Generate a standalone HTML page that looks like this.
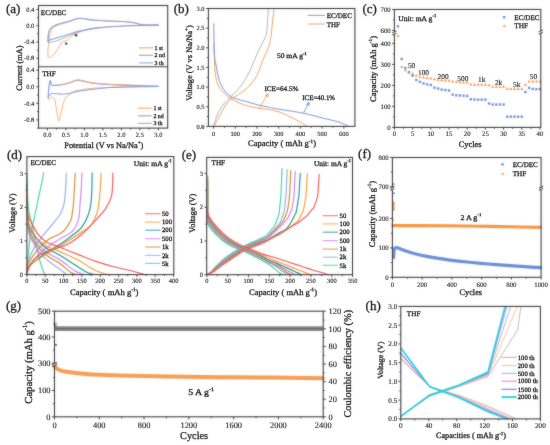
<!DOCTYPE html>
<html><head><meta charset="utf-8"><style>
html,body{margin:0;padding:0;background:#fff;}
svg{display:block;} #w{width:550px;height:445px;}
text{font-family:"Liberation Serif", serif;stroke:#161616;stroke-width:0.28px;text-rendering:geometricPrecision;} text.tk{stroke-width:0.12px;}
</style></head><body><div id="w">
<svg width="550" height="445" viewBox="0 0 550 445">
<defs><filter id="soft" filterUnits="userSpaceOnUse" x="0" y="0" width="550" height="445" color-interpolation-filters="sRGB"><feGaussianBlur in="SourceGraphic" stdDeviation="0.8" result="b"/><feComposite in="SourceGraphic" in2="b" operator="arithmetic" k1="0" k2="0.6" k3="0.4" k4="0"/></filter><filter id="soft2" filterUnits="userSpaceOnUse" x="0" y="0" width="550" height="445" color-interpolation-filters="sRGB"><feGaussianBlur in="SourceGraphic" stdDeviation="0.8" result="b"/><feComposite in="SourceGraphic" in2="b" operator="arithmetic" k1="0" k2="0.8" k3="0.2" k4="0"/></filter></defs>
<rect width="550" height="445" fill="#fff"/>
<g filter="url(#soft)">
<rect width="550" height="445" fill="#fff"/>
<line x1="36.3" y1="9.45" x2="38.5" y2="9.45" stroke="#3c3c3c" stroke-width="1"/>
<line x1="36.3" y1="25.73" x2="38.5" y2="25.73" stroke="#3c3c3c" stroke-width="1"/>
<line x1="36.3" y1="42.01" x2="38.5" y2="42.01" stroke="#3c3c3c" stroke-width="1"/>
<line x1="36.3" y1="58.29" x2="38.5" y2="58.29" stroke="#3c3c3c" stroke-width="1"/>
<line x1="37.1" y1="17.59" x2="38.5" y2="17.59" stroke="#3c3c3c" stroke-width="1"/>
<line x1="37.1" y1="33.87" x2="38.5" y2="33.87" stroke="#3c3c3c" stroke-width="1"/>
<line x1="37.1" y1="50.15" x2="38.5" y2="50.15" stroke="#3c3c3c" stroke-width="1"/>
<line x1="36.3" y1="70.21" x2="38.5" y2="70.21" stroke="#3c3c3c" stroke-width="1"/>
<line x1="36.3" y1="86.77" x2="38.5" y2="86.77" stroke="#3c3c3c" stroke-width="1"/>
<line x1="36.3" y1="103.33" x2="38.5" y2="103.33" stroke="#3c3c3c" stroke-width="1"/>
<line x1="36.3" y1="119.89" x2="38.5" y2="119.89" stroke="#3c3c3c" stroke-width="1"/>
<line x1="37.1" y1="78.49" x2="38.5" y2="78.49" stroke="#3c3c3c" stroke-width="1"/>
<line x1="37.1" y1="95.05" x2="38.5" y2="95.05" stroke="#3c3c3c" stroke-width="1"/>
<line x1="37.1" y1="111.61" x2="38.5" y2="111.61" stroke="#3c3c3c" stroke-width="1"/>
<line x1="37.1" y1="128.17" x2="38.5" y2="128.17" stroke="#3c3c3c" stroke-width="1"/>
<line x1="47.4" y1="128.1" x2="47.4" y2="130.3" stroke="#3c3c3c" stroke-width="1"/>
<line x1="65.89" y1="128.1" x2="65.89" y2="130.3" stroke="#3c3c3c" stroke-width="1"/>
<line x1="84.39" y1="128.1" x2="84.39" y2="130.3" stroke="#3c3c3c" stroke-width="1"/>
<line x1="102.88" y1="128.1" x2="102.88" y2="130.3" stroke="#3c3c3c" stroke-width="1"/>
<line x1="121.38" y1="128.1" x2="121.38" y2="130.3" stroke="#3c3c3c" stroke-width="1"/>
<line x1="139.88" y1="128.1" x2="139.88" y2="130.3" stroke="#3c3c3c" stroke-width="1"/>
<line x1="158.37" y1="128.1" x2="158.37" y2="130.3" stroke="#3c3c3c" stroke-width="1"/>
<line x1="56.65" y1="128.1" x2="56.65" y2="129.5" stroke="#3c3c3c" stroke-width="1"/>
<line x1="75.14" y1="128.1" x2="75.14" y2="129.5" stroke="#3c3c3c" stroke-width="1"/>
<line x1="93.64" y1="128.1" x2="93.64" y2="129.5" stroke="#3c3c3c" stroke-width="1"/>
<line x1="112.13" y1="128.1" x2="112.13" y2="129.5" stroke="#3c3c3c" stroke-width="1"/>
<line x1="130.63" y1="128.1" x2="130.63" y2="129.5" stroke="#3c3c3c" stroke-width="1"/>
<line x1="149.12" y1="128.1" x2="149.12" y2="129.5" stroke="#3c3c3c" stroke-width="1"/>
<path d="M158.3,25.2 C154.75,25.27 143.38,25.43 137,25.6 C130.62,25.77 125.33,25.97 120,26.2 C114.67,26.43 110,26.6 105,27 C100,27.4 94.28,27.73 90,28.6 C85.72,29.47 81.63,31.32 79.3,32.2 C76.97,33.08 77.3,33.23 76,33.9 C74.7,34.57 72.92,35.17 71.5,36.2 C70.08,37.23 68.63,39.27 67.5,40.1 C66.37,40.93 65.53,40.92 64.7,41.2 C63.87,41.48 63.43,40.87 62.5,41.8 C61.57,42.73 60.42,44.83 59.1,46.8 C57.78,48.77 55.92,51.9 54.6,53.6 C53.28,55.3 52.22,56.38 51.2,57 C50.18,57.62 49.05,57.47 48.5,57.3 C47.95,57.13 48,56.22 47.9,56" fill="none" stroke="#f6aa72" stroke-width="0.95" stroke-linejoin="round" stroke-linecap="round"/>
<path d="M47.9,56 C47.9,55 47.82,51.72 47.9,50 C47.98,48.28 48.03,48.28 48.4,45.7 C48.77,43.12 49.43,37.3 50.1,34.5 C50.77,31.7 51.27,30.4 52.4,28.9 C53.53,27.4 54.28,26.63 56.9,25.5 C59.52,24.37 64.55,23.23 68.1,22.1 C71.65,20.97 75.12,19.23 78.2,18.7 C81.28,18.17 83.63,18.65 86.6,18.9 C89.57,19.15 92.1,19.85 96,20.2 C99.9,20.55 105.38,20.77 110,21 C114.62,21.23 119.73,21.33 123.7,21.6 C127.67,21.87 130.98,22.15 133.8,22.6 C136.62,23.05 138.07,23.9 140.6,24.3 C143.13,24.7 146.05,24.87 149,25 C151.95,25.13 156.75,25.08 158.3,25.1" fill="none" stroke="#f6aa72" stroke-width="0.95" stroke-linejoin="round" stroke-linecap="round"/>
<path d="M100,27.9 C98.43,28.12 94.05,28.58 90.6,29.2 C87.15,29.82 83.05,30.43 79.3,31.6 C75.55,32.77 71.83,34.68 68.1,36.2 C64.37,37.72 59.72,39.68 56.9,40.7 C54.08,41.72 52.62,42.03 51.2,42.3 C49.78,42.57 48.87,42.3 48.4,42.3" fill="none" stroke="#a0a0a0" stroke-width="0.8" stroke-linejoin="round" stroke-linecap="round"/>
<path d="M48.4,42.3 C48.37,41.42 48.1,38.8 48.2,37 C48.3,35.2 48.5,33 49,31.5 C49.5,30 49.88,29.12 51.2,28 C52.52,26.88 55.95,25.33 56.9,24.8" fill="none" stroke="#a0a0a0" stroke-width="0.8" stroke-linejoin="round" stroke-linecap="round"/>
<path d="M158.3,25.1 C154.75,25.15 142.77,25.25 137,25.4 C131.23,25.55 128.2,25.77 123.7,26 C119.2,26.23 113.95,26.52 110,26.8 C106.05,27.08 103.23,27.35 100,27.7 C96.77,28.05 94.05,28.33 90.6,28.9 C87.15,29.47 83.05,30.17 79.3,31.1 C75.55,32.03 71.83,33.38 68.1,34.5 C64.37,35.62 59.92,36.88 56.9,37.8 C53.88,38.72 51.5,39.43 50,40 C48.5,40.57 48.25,41 47.9,41.2" fill="none" stroke="#849fe2" stroke-width="1.05" stroke-linejoin="round" stroke-linecap="round"/>
<path d="M47.9,41.2 C47.95,40.33 48.02,37.68 48.2,36 C48.38,34.32 48.5,32.48 49,31.1 C49.5,29.72 49.88,28.82 51.2,27.7 C52.52,26.58 54.08,25.42 56.9,24.4 C59.72,23.38 64.37,22.63 68.1,21.6 C71.83,20.57 75.55,18.48 79.3,18.2 C83.05,17.92 87.15,19.53 90.6,19.9 C94.05,20.27 96.77,20.2 100,20.4 C103.23,20.6 106.05,20.9 110,21.1 C113.95,21.3 119.73,21.32 123.7,21.6 C127.67,21.88 130.98,22.32 133.8,22.8 C136.62,23.28 138.07,24.13 140.6,24.5 C143.13,24.87 146.05,24.92 149,25 C151.95,25.08 156.75,25 158.3,25" fill="none" stroke="#849fe2" stroke-width="1.05" stroke-linejoin="round" stroke-linecap="round"/>
<circle cx="66.2" cy="43.6" r="1.2" fill="#1f3260"/>
<circle cx="76.1" cy="35.2" r="1.2" fill="#1f3260"/>
<path d="M158.3,86.3 C153.58,86.37 138.05,86.53 130,86.7 C121.95,86.87 115.83,87.05 110,87.3 C104.17,87.55 99.17,87.88 95,88.2 C90.83,88.52 88.5,88.65 85,89.2 C81.5,89.75 76.67,90.58 74,91.5 C71.33,92.42 70.42,93.62 69,94.7 C67.58,95.78 66.45,96.53 65.5,98 C64.55,99.47 64.1,100.83 63.3,103.5 C62.5,106.17 61.43,111.05 60.7,114 C59.97,116.95 59.48,121.2 58.9,121.2 C58.32,121.2 57.75,116.87 57.2,114 C56.65,111.13 56.05,106.48 55.6,104 C55.15,101.52 55.02,100.18 54.5,99.1 C53.98,98.02 53.1,97.87 52.5,97.5 C51.9,97.13 51.4,96.68 50.9,96.9 C50.4,97.12 49.87,98.32 49.5,98.8 C49.13,99.28 48.92,100.1 48.7,99.8 C48.48,99.5 48.28,97.47 48.2,97" fill="none" stroke="#f6aa72" stroke-width="0.95" stroke-linejoin="round" stroke-linecap="round"/>
<path d="M48.2,97 C48.27,95.83 48.4,92.17 48.6,90 C48.8,87.83 49.13,85.6 49.4,84 C49.67,82.4 49.95,80.57 50.2,80.4 C50.45,80.23 50.65,82.18 50.9,83 C51.15,83.82 51.18,84.9 51.7,85.3 C52.22,85.7 52.38,85.48 54,85.4 C55.62,85.32 58.58,85.3 61.4,84.8 C64.22,84.3 68.27,83.17 70.9,82.4 C73.53,81.63 75.1,80.4 77.2,80.2 C79.3,80 80.88,80.7 83.5,81.2 C86.12,81.7 88.48,82.65 92.9,83.2 C97.32,83.75 103.82,84.15 110,84.5 C116.18,84.85 123.33,85.05 130,85.3 C136.67,85.55 145.28,85.83 150,86 C154.72,86.17 156.92,86.25 158.3,86.3" fill="none" stroke="#a0a0a0" stroke-width="0.6" stroke-linejoin="round" stroke-linecap="round"/>
<path d="M48.2,97 C48.27,95.83 48.4,92.17 48.6,90 C48.8,87.83 49.13,85.6 49.4,84 C49.67,82.4 49.95,80.57 50.2,80.4 C50.45,80.23 50.65,82.18 50.9,83 C51.15,83.82 51.18,84.9 51.7,85.3 C52.22,85.7 52.38,85.48 54,85.4 C55.62,85.32 58.58,85.3 61.4,84.8 C64.22,84.3 68.27,83.17 70.9,82.4 C73.53,81.63 75.1,80.4 77.2,80.2 C79.3,80 80.88,80.7 83.5,81.2 C86.12,81.7 88.48,82.65 92.9,83.2 C97.32,83.75 103.82,84.15 110,84.5 C116.18,84.85 123.33,85.05 130,85.3 C136.67,85.55 145.28,85.83 150,86 C154.72,86.17 156.92,86.25 158.3,86.3" fill="none" stroke="#849fe2" stroke-width="1.05" stroke-linejoin="round" stroke-linecap="round"/>
<path d="M158.3,86.4 C153.58,86.48 138.05,86.7 130,86.9 C121.95,87.1 116.18,87.22 110,87.6 C103.82,87.98 98.37,88.55 92.9,89.2 C87.43,89.85 81.13,90.8 77.2,91.5 C73.27,92.2 71.93,92.97 69.3,93.4 C66.67,93.83 64.28,94.07 61.4,94.1 C58.52,94.13 54.03,93.37 52,93.6 C49.97,93.83 49.83,94.93 49.2,95.5 C48.57,96.07 48.37,96.75 48.2,97" fill="none" stroke="#849fe2" stroke-width="1.05" stroke-linejoin="round" stroke-linecap="round"/>
<path d="M61.4,85 C62.98,84.52 68.27,82.97 70.9,82.1 C73.53,81.23 75.1,80.02 77.2,79.8 C79.3,79.58 80.88,80.3 83.5,80.8 C86.12,81.3 88.48,82.22 92.9,82.8 C97.32,83.38 103.82,83.9 110,84.3 C116.18,84.7 126.67,85.05 130,85.2" fill="none" stroke="#f6aa72" stroke-width="0.85" stroke-linejoin="round" stroke-linecap="round"/>
<rect x="38.5" y="5.5" width="129.2" height="122.6" fill="none" stroke="#3c3c3c" stroke-width="1.1"/>
<line x1="38.5" y1="66.8" x2="167.7" y2="66.8" stroke="#3c3c3c" stroke-width="1.1"/>
<line x1="138.9" y1="47.8" x2="153" y2="47.8" stroke="#f6ad7c" stroke-width="1.2"/>
<line x1="138.9" y1="55.3" x2="153" y2="55.3" stroke="#a8a8a8" stroke-width="1.2"/>
<line x1="138.9" y1="62.9" x2="153" y2="62.9" stroke="#9fb2e2" stroke-width="1.2"/>
<line x1="138" y1="108.2" x2="151.8" y2="108.2" stroke="#f6ad7c" stroke-width="1.2"/>
<line x1="138" y1="115.8" x2="151.8" y2="115.8" stroke="#a8a8a8" stroke-width="1.2"/>
<line x1="138" y1="123.4" x2="151.8" y2="123.4" stroke="#9fb2e2" stroke-width="1.2"/>
<line x1="206.2" y1="126.4" x2="208.4" y2="126.4" stroke="#3c3c3c" stroke-width="1"/>
<line x1="206.2" y1="106.75" x2="208.4" y2="106.75" stroke="#3c3c3c" stroke-width="1"/>
<line x1="206.2" y1="87.1" x2="208.4" y2="87.1" stroke="#3c3c3c" stroke-width="1"/>
<line x1="206.2" y1="67.45" x2="208.4" y2="67.45" stroke="#3c3c3c" stroke-width="1"/>
<line x1="206.2" y1="47.8" x2="208.4" y2="47.8" stroke="#3c3c3c" stroke-width="1"/>
<line x1="206.2" y1="28.15" x2="208.4" y2="28.15" stroke="#3c3c3c" stroke-width="1"/>
<line x1="206.2" y1="8.5" x2="208.4" y2="8.5" stroke="#3c3c3c" stroke-width="1"/>
<line x1="207" y1="116.58" x2="208.4" y2="116.58" stroke="#3c3c3c" stroke-width="1"/>
<line x1="207" y1="96.93" x2="208.4" y2="96.93" stroke="#3c3c3c" stroke-width="1"/>
<line x1="207" y1="77.28" x2="208.4" y2="77.28" stroke="#3c3c3c" stroke-width="1"/>
<line x1="207" y1="57.63" x2="208.4" y2="57.63" stroke="#3c3c3c" stroke-width="1"/>
<line x1="207" y1="37.98" x2="208.4" y2="37.98" stroke="#3c3c3c" stroke-width="1"/>
<line x1="207" y1="18.33" x2="208.4" y2="18.33" stroke="#3c3c3c" stroke-width="1"/>
<line x1="213.5" y1="126.4" x2="213.5" y2="128.6" stroke="#3c3c3c" stroke-width="1"/>
<line x1="235.22" y1="126.4" x2="235.22" y2="128.6" stroke="#3c3c3c" stroke-width="1"/>
<line x1="256.94" y1="126.4" x2="256.94" y2="128.6" stroke="#3c3c3c" stroke-width="1"/>
<line x1="278.66" y1="126.4" x2="278.66" y2="128.6" stroke="#3c3c3c" stroke-width="1"/>
<line x1="300.38" y1="126.4" x2="300.38" y2="128.6" stroke="#3c3c3c" stroke-width="1"/>
<line x1="322.1" y1="126.4" x2="322.1" y2="128.6" stroke="#3c3c3c" stroke-width="1"/>
<line x1="343.82" y1="126.4" x2="343.82" y2="128.6" stroke="#3c3c3c" stroke-width="1"/>
<line x1="202.64" y1="126.4" x2="202.64" y2="127.8" stroke="#3c3c3c" stroke-width="1"/>
<line x1="224.36" y1="126.4" x2="224.36" y2="127.8" stroke="#3c3c3c" stroke-width="1"/>
<line x1="246.08" y1="126.4" x2="246.08" y2="127.8" stroke="#3c3c3c" stroke-width="1"/>
<line x1="267.8" y1="126.4" x2="267.8" y2="127.8" stroke="#3c3c3c" stroke-width="1"/>
<line x1="289.52" y1="126.4" x2="289.52" y2="127.8" stroke="#3c3c3c" stroke-width="1"/>
<line x1="311.24" y1="126.4" x2="311.24" y2="127.8" stroke="#3c3c3c" stroke-width="1"/>
<line x1="332.96" y1="126.4" x2="332.96" y2="127.8" stroke="#3c3c3c" stroke-width="1"/>
<path d="M213.4,126.4 C213.58,125.83 213.87,124.9 214.5,123 C215.13,121.1 216.25,117.35 217.2,115 C218.15,112.65 218.93,110.95 220.2,108.9 C221.47,106.85 223.02,104.75 224.8,102.7 C226.58,100.65 228.87,98.63 230.9,96.6 C232.93,94.57 234.97,92.78 237,90.5 C239.03,88.22 241.07,85.95 243.1,82.9 C245.13,79.85 247.65,75.18 249.2,72.2 C250.75,69.22 251.02,68.2 252.4,65 C253.78,61.8 255.93,56.45 257.5,53 C259.07,49.55 260.47,46.97 261.8,44.3 C263.13,41.63 264.65,39.18 265.5,37 C266.35,34.82 266.55,34.12 266.9,31.2 C267.25,28.28 267.35,23.27 267.6,19.5 C267.85,15.73 268.27,10.42 268.4,8.6" fill="none" stroke="#a9a9a9" stroke-width="0.9" stroke-linejoin="round" stroke-linecap="round"/>
<path d="M214.1,126.4 C214.33,125.83 214.73,124.4 215.5,123 C216.27,121.6 217.4,120.35 218.7,118 C220,115.65 221.52,111.82 223.3,108.9 C225.08,105.98 226.87,102.92 229.4,100.5 C231.93,98.08 235.45,96.57 238.5,94.4 C241.55,92.23 244.9,90.18 247.7,87.5 C250.5,84.82 253.18,81.72 255.3,78.3 C257.42,74.88 259.07,70.25 260.4,67 C261.73,63.75 262.22,61.38 263.3,58.8 C264.38,56.22 265.82,54.17 266.9,51.5 C267.98,48.83 269.07,45.7 269.8,42.8 C270.53,39.9 270.82,37.98 271.3,34.1 C271.78,30.22 272.22,23.75 272.7,19.5 C273.18,15.25 273.95,10.42 274.2,8.6" fill="none" stroke="#f5a062" stroke-width="1" stroke-linejoin="round" stroke-linecap="round"/>
<path d="M213.8,43.5 C213.87,45.42 214.07,51.72 214.2,55 C214.33,58.28 214.47,60.33 214.6,63.2 C214.73,66.07 214.57,68.92 215,72.2 C215.43,75.48 216.08,79.85 217.2,82.9 C218.32,85.95 219.93,88.22 221.7,90.5 C223.47,92.78 225.5,94.82 227.8,96.6 C230.1,98.38 232.7,99.8 235.5,101.2 C238.3,102.6 241.55,103.98 244.6,105 C247.65,106.02 251.25,106.72 253.8,107.3 C256.35,107.88 257.35,108.12 259.9,108.5 C262.45,108.88 265.75,108.98 269.1,109.6 C272.45,110.22 275.77,110.63 280,112.2 C284.23,113.77 291.08,117.33 294.5,119 C297.92,120.67 298.43,120.97 300.5,122.2 C302.57,123.43 305.83,125.7 306.9,126.4" fill="none" stroke="#f5a062" stroke-width="1" stroke-linejoin="round" stroke-linecap="round"/>
<path d="M213.8,23.6 C213.82,25.5 213.85,31.55 213.9,35 C213.95,38.45 214,40.82 214.1,44.3 C214.2,47.78 214.18,52.45 214.5,55.9 C214.82,59.35 215.3,61.27 216,65 C216.7,68.73 217.75,74.8 218.7,78.3 C219.65,81.8 220.43,83.58 221.7,86 C222.97,88.42 224.52,90.9 226.3,92.8 C228.08,94.7 230.37,96.3 232.4,97.4 C234.43,98.5 235.95,98.63 238.5,99.4 C241.05,100.17 244.38,101.07 247.7,102 C251.02,102.93 254.83,104.12 258.4,105 C261.97,105.88 265.5,106.58 269.1,107.3 C272.7,108.02 274.3,108.32 280,109.3 C285.7,110.28 296.03,111.7 303.3,113.2 C310.57,114.7 317.78,116.85 323.6,118.3 C329.42,119.75 334.07,120.58 338.2,121.9 C342.33,123.22 346.7,125.48 348.4,126.2" fill="none" stroke="#7592da" stroke-width="1" stroke-linejoin="round" stroke-linecap="round"/>
<line x1="259.1" y1="108.9" x2="266.9" y2="95.3" stroke="#f5a062" stroke-width="0.9"/>
<path d="M268.3,92.8 L264.8,95.4 L268.3,97.2 Z" fill="#f5a062"/>
<line x1="303.5" y1="113" x2="308.2" y2="103.8" stroke="#7592da" stroke-width="0.9"/>
<path d="M309.3,101.3 L306.0,104.4 L309.6,105.5 Z" fill="#7592da"/>
<rect x="208.4" y="8.5" width="146.5" height="117.9" fill="none" stroke="#3c3c3c" stroke-width="1.1"/>
<line x1="307.7" y1="15.4" x2="324.8" y2="15.4" stroke="#8aa3e0" stroke-width="1.1"/>
<line x1="307.7" y1="24" x2="324.8" y2="24" stroke="#f6a872" stroke-width="1.1"/>
<line x1="392.2" y1="127.4" x2="394.4" y2="127.4" stroke="#3c3c3c" stroke-width="1"/>
<line x1="392.2" y1="106.4" x2="394.4" y2="106.4" stroke="#3c3c3c" stroke-width="1"/>
<line x1="392.2" y1="85.4" x2="394.4" y2="85.4" stroke="#3c3c3c" stroke-width="1"/>
<line x1="392.2" y1="64.4" x2="394.4" y2="64.4" stroke="#3c3c3c" stroke-width="1"/>
<line x1="392.2" y1="43.4" x2="394.4" y2="43.4" stroke="#3c3c3c" stroke-width="1"/>
<line x1="392.2" y1="30.5" x2="394.4" y2="30.5" stroke="#3c3c3c" stroke-width="1"/>
<line x1="392.2" y1="9.5" x2="394.4" y2="9.5" stroke="#3c3c3c" stroke-width="1"/>
<line x1="393" y1="116.9" x2="394.4" y2="116.9" stroke="#3c3c3c" stroke-width="1"/>
<line x1="393" y1="95.9" x2="394.4" y2="95.9" stroke="#3c3c3c" stroke-width="1"/>
<line x1="393" y1="74.9" x2="394.4" y2="74.9" stroke="#3c3c3c" stroke-width="1"/>
<line x1="393" y1="53.9" x2="394.4" y2="53.9" stroke="#3c3c3c" stroke-width="1"/>
<line x1="393" y1="20" x2="394.4" y2="20" stroke="#3c3c3c" stroke-width="1"/>
<line x1="394.4" y1="127.4" x2="394.4" y2="129.6" stroke="#3c3c3c" stroke-width="1"/>
<line x1="412.6" y1="127.4" x2="412.6" y2="129.6" stroke="#3c3c3c" stroke-width="1"/>
<line x1="430.8" y1="127.4" x2="430.8" y2="129.6" stroke="#3c3c3c" stroke-width="1"/>
<line x1="449" y1="127.4" x2="449" y2="129.6" stroke="#3c3c3c" stroke-width="1"/>
<line x1="467.2" y1="127.4" x2="467.2" y2="129.6" stroke="#3c3c3c" stroke-width="1"/>
<line x1="485.4" y1="127.4" x2="485.4" y2="129.6" stroke="#3c3c3c" stroke-width="1"/>
<line x1="503.6" y1="127.4" x2="503.6" y2="129.6" stroke="#3c3c3c" stroke-width="1"/>
<line x1="521.8" y1="127.4" x2="521.8" y2="129.6" stroke="#3c3c3c" stroke-width="1"/>
<line x1="540" y1="127.4" x2="540" y2="129.6" stroke="#3c3c3c" stroke-width="1"/>
<line x1="403.5" y1="127.4" x2="403.5" y2="128.8" stroke="#3c3c3c" stroke-width="1"/>
<line x1="421.7" y1="127.4" x2="421.7" y2="128.8" stroke="#3c3c3c" stroke-width="1"/>
<line x1="439.9" y1="127.4" x2="439.9" y2="128.8" stroke="#3c3c3c" stroke-width="1"/>
<line x1="458.1" y1="127.4" x2="458.1" y2="128.8" stroke="#3c3c3c" stroke-width="1"/>
<line x1="476.3" y1="127.4" x2="476.3" y2="128.8" stroke="#3c3c3c" stroke-width="1"/>
<line x1="494.5" y1="127.4" x2="494.5" y2="128.8" stroke="#3c3c3c" stroke-width="1"/>
<line x1="512.7" y1="127.4" x2="512.7" y2="128.8" stroke="#3c3c3c" stroke-width="1"/>
<line x1="530.9" y1="127.4" x2="530.9" y2="128.8" stroke="#3c3c3c" stroke-width="1"/>
<path d="M398.04,34.22 L399.54,36.92 L396.54,36.92 Z" fill="#f5913a"/>
<path d="M401.68,65.3 L403.18,68 L400.18,68 Z" fill="#f5913a"/>
<path d="M405.32,68.45 L406.82,71.15 L403.82,71.15 Z" fill="#f5913a"/>
<path d="M408.96,70.34 L410.46,73.04 L407.46,73.04 Z" fill="#f5913a"/>
<path d="M412.6,72.23 L414.1,74.93 L411.1,74.93 Z" fill="#f5913a"/>
<path d="M416.24,73.91 L417.74,76.61 L414.74,76.61 Z" fill="#f5913a"/>
<path d="M419.88,75.17 L421.38,77.87 L418.38,77.87 Z" fill="#f5913a"/>
<path d="M423.52,75.8 L425.02,78.5 L422.02,78.5 Z" fill="#f5913a"/>
<path d="M427.16,76.22 L428.66,78.92 L425.66,78.92 Z" fill="#f5913a"/>
<path d="M430.8,76.64 L432.3,79.34 L429.3,79.34 Z" fill="#f5913a"/>
<path d="M434.44,77.59 L435.94,80.29 L432.94,80.29 Z" fill="#f5913a"/>
<path d="M438.08,78.11 L439.58,80.81 L436.58,80.81 Z" fill="#f5913a"/>
<path d="M441.72,78.53 L443.22,81.23 L440.22,81.23 Z" fill="#f5913a"/>
<path d="M445.36,78.84 L446.86,81.55 L443.86,81.55 Z" fill="#f5913a"/>
<path d="M449,79.06 L450.5,81.76 L447.5,81.76 Z" fill="#f5913a"/>
<path d="M452.64,79.87 L454.14,82.57 L451.14,82.57 Z" fill="#f5913a"/>
<path d="M456.28,80.42 L457.78,83.12 L454.78,83.12 Z" fill="#f5913a"/>
<path d="M459.92,80.63 L461.42,83.33 L458.42,83.33 Z" fill="#f5913a"/>
<path d="M463.56,80.73 L465.06,83.44 L462.06,83.44 Z" fill="#f5913a"/>
<path d="M467.2,80.84 L468.7,83.54 L465.7,83.54 Z" fill="#f5913a"/>
<path d="M470.84,82.73 L472.34,85.43 L469.34,85.43 Z" fill="#f5913a"/>
<path d="M474.48,82.94 L475.98,85.64 L472.98,85.64 Z" fill="#f5913a"/>
<path d="M478.12,82.94 L479.62,85.64 L476.62,85.64 Z" fill="#f5913a"/>
<path d="M481.76,82.94 L483.26,85.64 L480.26,85.64 Z" fill="#f5913a"/>
<path d="M485.4,82.94 L486.9,85.64 L483.9,85.64 Z" fill="#f5913a"/>
<path d="M489.04,83.57 L490.54,86.27 L487.54,86.27 Z" fill="#f5913a"/>
<path d="M492.68,85.04 L494.18,87.74 L491.18,87.74 Z" fill="#f5913a"/>
<path d="M496.32,85.04 L497.82,87.74 L494.82,87.74 Z" fill="#f5913a"/>
<path d="M499.96,85.04 L501.46,87.74 L498.46,87.74 Z" fill="#f5913a"/>
<path d="M503.6,85.04 L505.1,87.74 L502.1,87.74 Z" fill="#f5913a"/>
<path d="M507.24,86.93 L508.74,89.63 L505.74,89.63 Z" fill="#f5913a"/>
<path d="M510.88,87.35 L512.38,90.05 L509.38,90.05 Z" fill="#f5913a"/>
<path d="M514.52,87.35 L516.02,90.05 L513.02,90.05 Z" fill="#f5913a"/>
<path d="M518.16,87.35 L519.66,90.05 L516.66,90.05 Z" fill="#f5913a"/>
<path d="M521.8,87.35 L523.3,90.05 L520.3,90.05 Z" fill="#f5913a"/>
<path d="M525.44,83.36 L526.94,86.06 L523.94,86.06 Z" fill="#f5913a"/>
<path d="M529.08,79.79 L530.58,82.49 L527.58,82.49 Z" fill="#f5913a"/>
<path d="M532.72,79.79 L534.22,82.49 L531.22,82.49 Z" fill="#f5913a"/>
<path d="M536.36,79.79 L537.86,82.49 L534.86,82.49 Z" fill="#f5913a"/>
<path d="M540,79.79 L541.5,82.49 L538.5,82.49 Z" fill="#f5913a"/>
<rect x="396.86" y="25.12" width="2.35" height="2.35" fill="#6a8ede"/>
<rect x="400.5" y="57.77" width="2.35" height="2.35" fill="#6a8ede"/>
<rect x="404.14" y="66.8" width="2.35" height="2.35" fill="#6a8ede"/>
<rect x="407.78" y="71.21" width="2.35" height="2.35" fill="#6a8ede"/>
<rect x="411.42" y="74.57" width="2.35" height="2.35" fill="#6a8ede"/>
<rect x="415.06" y="78.77" width="2.35" height="2.35" fill="#6a8ede"/>
<rect x="418.7" y="80.66" width="2.35" height="2.35" fill="#6a8ede"/>
<rect x="422.34" y="82.23" width="2.35" height="2.35" fill="#6a8ede"/>
<rect x="425.98" y="83.18" width="2.35" height="2.35" fill="#6a8ede"/>
<rect x="429.62" y="83.81" width="2.35" height="2.35" fill="#6a8ede"/>
<rect x="433.26" y="86.43" width="2.35" height="2.35" fill="#6a8ede"/>
<rect x="436.9" y="87.38" width="2.35" height="2.35" fill="#6a8ede"/>
<rect x="440.54" y="88.43" width="2.35" height="2.35" fill="#6a8ede"/>
<rect x="444.18" y="88.85" width="2.35" height="2.35" fill="#6a8ede"/>
<rect x="447.82" y="89.27" width="2.35" height="2.35" fill="#6a8ede"/>
<rect x="451.46" y="93.47" width="2.35" height="2.35" fill="#6a8ede"/>
<rect x="455.1" y="94.1" width="2.35" height="2.35" fill="#6a8ede"/>
<rect x="458.74" y="94.31" width="2.35" height="2.35" fill="#6a8ede"/>
<rect x="462.38" y="94.52" width="2.35" height="2.35" fill="#6a8ede"/>
<rect x="466.02" y="94.73" width="2.35" height="2.35" fill="#6a8ede"/>
<rect x="469.66" y="98.09" width="2.35" height="2.35" fill="#6a8ede"/>
<rect x="473.3" y="98.3" width="2.35" height="2.35" fill="#6a8ede"/>
<rect x="476.94" y="98.51" width="2.35" height="2.35" fill="#6a8ede"/>
<rect x="480.58" y="98.51" width="2.35" height="2.35" fill="#6a8ede"/>
<rect x="484.22" y="98.51" width="2.35" height="2.35" fill="#6a8ede"/>
<rect x="487.86" y="102.29" width="2.35" height="2.35" fill="#6a8ede"/>
<rect x="491.5" y="103.34" width="2.35" height="2.35" fill="#6a8ede"/>
<rect x="495.14" y="103.34" width="2.35" height="2.35" fill="#6a8ede"/>
<rect x="498.78" y="103.34" width="2.35" height="2.35" fill="#6a8ede"/>
<rect x="502.42" y="103.34" width="2.35" height="2.35" fill="#6a8ede"/>
<rect x="506.06" y="115.52" width="2.35" height="2.35" fill="#6a8ede"/>
<rect x="509.7" y="115.52" width="2.35" height="2.35" fill="#6a8ede"/>
<rect x="513.35" y="115.52" width="2.35" height="2.35" fill="#6a8ede"/>
<rect x="516.99" y="115.52" width="2.35" height="2.35" fill="#6a8ede"/>
<rect x="520.62" y="115.52" width="2.35" height="2.35" fill="#6a8ede"/>
<rect x="524.26" y="90.84" width="2.35" height="2.35" fill="#6a8ede"/>
<rect x="527.9" y="86.75" width="2.35" height="2.35" fill="#6a8ede"/>
<rect x="531.55" y="87.8" width="2.35" height="2.35" fill="#6a8ede"/>
<rect x="535.19" y="88.01" width="2.35" height="2.35" fill="#6a8ede"/>
<rect x="538.83" y="88.01" width="2.35" height="2.35" fill="#6a8ede"/>
<rect x="394.4" y="9.45" width="146.4" height="117.95" fill="none" stroke="#3c3c3c" stroke-width="1.1"/>
<rect x="393.4" y="31.9" width="2" height="2.2" fill="#fff"/>
<line x1="392.4" y1="32.9" x2="396.4" y2="31" stroke="#3c3c3c" stroke-width="1.05"/>
<line x1="392.4" y1="35" x2="396.4" y2="33.1" stroke="#3c3c3c" stroke-width="1.05"/>
<rect x="539.8" y="30.9" width="2" height="2.2" fill="#fff"/>
<line x1="538.8" y1="31.9" x2="542.8" y2="30" stroke="#3c3c3c" stroke-width="1.05"/>
<line x1="538.8" y1="34" x2="542.8" y2="32.1" stroke="#3c3c3c" stroke-width="1.05"/>
<rect x="502.95" y="15.95" width="2.5" height="2.5" fill="#6a8ede"/>
<path d="M504.3,24.38 L505.8,27.08 L502.8,27.08 Z" fill="#f5913a"/>
<line x1="24.7" y1="274.5" x2="26.9" y2="274.5" stroke="#3c3c3c" stroke-width="1"/>
<line x1="24.7" y1="240.9" x2="26.9" y2="240.9" stroke="#3c3c3c" stroke-width="1"/>
<line x1="24.7" y1="207.3" x2="26.9" y2="207.3" stroke="#3c3c3c" stroke-width="1"/>
<line x1="24.7" y1="173.7" x2="26.9" y2="173.7" stroke="#3c3c3c" stroke-width="1"/>
<line x1="25.5" y1="257.7" x2="26.9" y2="257.7" stroke="#3c3c3c" stroke-width="1"/>
<line x1="25.5" y1="224.1" x2="26.9" y2="224.1" stroke="#3c3c3c" stroke-width="1"/>
<line x1="25.5" y1="190.5" x2="26.9" y2="190.5" stroke="#3c3c3c" stroke-width="1"/>
<line x1="26.9" y1="274.6" x2="26.9" y2="276.8" stroke="#3c3c3c" stroke-width="1"/>
<line x1="45.23" y1="274.6" x2="45.23" y2="276.8" stroke="#3c3c3c" stroke-width="1"/>
<line x1="63.57" y1="274.6" x2="63.57" y2="276.8" stroke="#3c3c3c" stroke-width="1"/>
<line x1="81.91" y1="274.6" x2="81.91" y2="276.8" stroke="#3c3c3c" stroke-width="1"/>
<line x1="100.24" y1="274.6" x2="100.24" y2="276.8" stroke="#3c3c3c" stroke-width="1"/>
<line x1="118.58" y1="274.6" x2="118.58" y2="276.8" stroke="#3c3c3c" stroke-width="1"/>
<line x1="136.91" y1="274.6" x2="136.91" y2="276.8" stroke="#3c3c3c" stroke-width="1"/>
<line x1="155.25" y1="274.6" x2="155.25" y2="276.8" stroke="#3c3c3c" stroke-width="1"/>
<line x1="173.58" y1="274.6" x2="173.58" y2="276.8" stroke="#3c3c3c" stroke-width="1"/>
<line x1="36.07" y1="274.6" x2="36.07" y2="276" stroke="#3c3c3c" stroke-width="1"/>
<line x1="54.4" y1="274.6" x2="54.4" y2="276" stroke="#3c3c3c" stroke-width="1"/>
<line x1="72.74" y1="274.6" x2="72.74" y2="276" stroke="#3c3c3c" stroke-width="1"/>
<line x1="91.07" y1="274.6" x2="91.07" y2="276" stroke="#3c3c3c" stroke-width="1"/>
<line x1="109.41" y1="274.6" x2="109.41" y2="276" stroke="#3c3c3c" stroke-width="1"/>
<line x1="127.74" y1="274.6" x2="127.74" y2="276" stroke="#3c3c3c" stroke-width="1"/>
<line x1="146.08" y1="274.6" x2="146.08" y2="276" stroke="#3c3c3c" stroke-width="1"/>
<line x1="164.41" y1="274.6" x2="164.41" y2="276" stroke="#3c3c3c" stroke-width="1"/>
<path d="M26.9,274.5 C26.96,273.1 27.08,268.9 27.27,266.1 C27.45,263.3 27.45,263.02 28,257.7 C28.55,252.38 29.53,240.79 30.57,234.18 C31.61,227.57 33.01,223.65 34.23,218.05 C35.46,212.45 36.8,205.73 37.9,200.58 C39,195.43 39.86,191.79 40.83,187.14 C41.81,182.49 43.28,175.1 43.77,172.69" fill="none" stroke="#3fd3a8" stroke-width="1.15" stroke-linejoin="round" stroke-linecap="round"/>
<path d="M26.9,173.7 C27.02,177.62 27.33,191.06 27.63,197.22 C27.94,203.38 28.12,206.57 28.73,210.66 C29.34,214.75 30.38,217.55 31.3,221.75 C32.22,225.95 33.32,231.38 34.23,235.86 C35.15,240.34 35.88,244.54 36.8,248.63 C37.72,252.72 38.82,257.03 39.73,260.39 C40.65,263.75 41.45,266.44 42.3,268.79 C43.16,271.14 44.44,273.55 44.87,274.5" fill="none" stroke="#3fd3a8" stroke-width="1.15" stroke-linejoin="round" stroke-linecap="round"/>
<path d="M26.9,274.5 C27.02,272.82 27.33,266.94 27.63,264.42 C27.94,261.9 27.63,262.18 28.73,259.38 C29.83,256.58 31.79,251.65 34.23,247.62 C36.68,243.59 40.35,239.11 43.4,235.19 C46.46,231.27 49.82,227.52 52.57,224.1 C55.32,220.68 58.25,217.21 59.9,214.69 C61.55,212.17 61.74,211.05 62.47,208.98 C63.2,206.91 63.75,205.9 64.3,202.26 C64.85,198.62 65.42,192.01 65.77,187.14 C66.12,182.27 66.29,175.38 66.39,173.03" fill="none" stroke="#97aae2" stroke-width="1.15" stroke-linejoin="round" stroke-linecap="round"/>
<path d="M26.9,180.42 C26.99,187.14 27.14,212.06 27.45,220.74 C27.76,229.42 27.85,228.97 28.73,232.5 C29.62,236.03 31.06,238.72 32.77,241.91 C34.48,245.1 36.74,248.74 39,251.65 C41.26,254.56 43.77,257.08 46.34,259.38 C48.9,261.68 52.14,263.8 54.4,265.43 C56.66,267.05 57.89,267.61 59.9,269.12 C61.92,270.64 65.4,273.6 66.5,274.5" fill="none" stroke="#97aae2" stroke-width="1.15" stroke-linejoin="round" stroke-linecap="round"/>
<path d="M26.9,274.5 C27.02,273.1 27.02,268.62 27.63,266.1 C28.24,263.58 28.61,262.46 30.57,259.38 C32.52,256.3 36.31,250.98 39.37,247.62 C42.42,244.26 45.48,241.52 48.9,239.22 C52.32,236.92 57.15,235.52 59.9,233.84 C62.65,232.16 63.57,231.44 65.4,229.14 C67.24,226.84 69.74,222.87 70.9,220.07 C72.07,217.27 71.94,215.03 72.37,212.34 C72.8,209.65 73.12,208.14 73.47,203.94 C73.83,199.74 74.21,192.29 74.5,187.14 C74.78,181.99 75.08,175.38 75.19,173.03" fill="none" stroke="#c68d32" stroke-width="1.15" stroke-linejoin="round" stroke-linecap="round"/>
<path d="M26.9,190.5 C26.99,195.26 27.14,212.34 27.45,219.06 C27.76,225.78 28.09,227.74 28.73,230.82 C29.38,233.9 29.53,234.57 31.3,237.54 C33.07,240.51 36.43,245.38 39.37,248.63 C42.3,251.88 45.48,254.56 48.9,257.03 C52.32,259.49 56.24,260.84 59.9,263.41 C63.57,265.99 68.15,270.64 70.9,272.48 C73.65,274.33 75.49,274.16 76.4,274.5" fill="none" stroke="#c68d32" stroke-width="1.15" stroke-linejoin="round" stroke-linecap="round"/>
<path d="M26.9,274.5 C27.08,273.66 27.39,271.14 28,269.46 C28.61,267.78 28.67,267.05 30.57,264.42 C32.46,261.79 36.31,256.75 39.37,253.67 C42.42,250.59 45.48,248.4 48.9,245.94 C52.32,243.48 55.93,241.4 59.9,238.88 C63.88,236.36 69.62,234.12 72.74,230.82 C75.85,227.52 77.41,223.2 78.6,219.06 C79.8,214.92 79.44,211.28 79.89,205.96 C80.34,200.64 80.98,192.63 81.32,187.14 C81.65,181.65 81.81,175.38 81.91,173.03" fill="none" stroke="#d57df5" stroke-width="1.15" stroke-linejoin="round" stroke-linecap="round"/>
<path d="M26.9,187.14 C26.99,192.18 27.14,210.66 27.45,217.38 C27.76,224.1 28.09,224.55 28.73,227.46 C29.38,230.37 29.53,231.77 31.3,234.85 C33.07,237.93 36.43,242.8 39.37,245.94 C42.3,249.08 45.48,251.37 48.9,253.67 C52.32,255.96 55.66,256.92 59.9,259.72 C64.15,262.52 70.78,268.12 74.39,270.47 C77.99,272.82 79.86,273.16 81.54,273.83 C83.22,274.5 83.98,274.39 84.47,274.5" fill="none" stroke="#d57df5" stroke-width="1.15" stroke-linejoin="round" stroke-linecap="round"/>
<path d="M26.9,274.5 C27.08,273.72 27.39,271.36 28,269.8 C28.61,268.23 28.67,267.11 30.57,265.09 C32.46,263.08 36.31,260.05 39.37,257.7 C42.42,255.35 45.48,253.16 48.9,250.98 C52.32,248.8 56.24,247 59.9,244.6 C63.57,242.19 67.3,239.39 70.9,236.53 C74.51,233.68 78.54,231.38 81.54,227.46 C84.53,223.54 87.26,217.49 88.87,213.01 C90.49,208.53 90.71,204.89 91.22,200.58 C91.73,196.27 91.75,191.73 91.92,187.14 C92.08,182.55 92.16,175.38 92.21,173.03" fill="none" stroke="#15998f" stroke-width="1.15" stroke-linejoin="round" stroke-linecap="round"/>
<path d="M26.9,183.78 C26.99,188.82 27.14,207.3 27.45,214.02 C27.76,220.74 28.09,221.19 28.73,224.1 C29.38,227.01 28.86,227.85 31.3,231.49 C33.75,235.13 38.63,241.96 43.4,245.94 C48.17,249.92 54.16,251.88 59.9,255.35 C65.65,258.82 73.29,263.92 77.87,266.77 C82.46,269.63 84.53,271.2 87.41,272.48 C90.28,273.77 93.82,274.16 95.11,274.5" fill="none" stroke="#15998f" stroke-width="1.15" stroke-linejoin="round" stroke-linecap="round"/>
<path d="M26.9,274.5 C27.08,273.66 27.39,271.14 28,269.46 C28.61,267.78 28.92,266.1 30.57,264.42 C32.22,262.74 35.27,261.06 37.9,259.38 C40.53,257.7 42.67,256.52 46.34,254.34 C50,252.16 54.65,249.58 59.9,246.28 C65.16,242.97 72.74,237.99 77.87,234.52 C83.01,231.04 87.53,229.03 90.71,225.44 C93.88,221.86 95.53,217.16 96.94,213.01 C98.35,208.87 98.56,204.89 99.14,200.58 C99.72,196.27 100.08,191.73 100.42,187.14 C100.77,182.55 101.07,175.38 101.19,173.03" fill="none" stroke="#f79a2e" stroke-width="1.15" stroke-linejoin="round" stroke-linecap="round"/>
<path d="M26.9,190.5 C26.99,194.14 27.14,207.02 27.45,212.34 C27.76,217.66 28.09,219.62 28.73,222.42 C29.38,225.22 29.77,226.34 31.3,229.14 C32.83,231.94 35.4,236.42 37.9,239.22 C40.41,242.02 42.67,243.87 46.34,245.94 C50,248.01 54.65,249.36 59.9,251.65 C65.16,253.95 72.98,257.14 77.87,259.72 C82.76,262.29 86.24,265.32 89.24,267.11 C92.23,268.9 93.39,269.4 95.84,270.47 C98.28,271.53 101.71,272.82 103.91,273.49 C106.11,274.16 108.19,274.33 109.04,274.5" fill="none" stroke="#f79a2e" stroke-width="1.15" stroke-linejoin="round" stroke-linecap="round"/>
<path d="M26.9,274.5 C27.08,273.66 27.39,271.25 28,269.46 C28.61,267.67 28.92,265.99 30.57,263.75 C32.22,261.51 34.72,258.26 37.9,256.02 C41.08,253.78 45.97,251.76 49.64,250.31 C53.3,248.85 56.66,248.4 59.9,247.28 C63.14,246.16 65.46,245.72 69.07,243.59 C72.68,241.46 77.08,238.44 81.54,234.52 C86,230.6 91.93,224.27 95.84,220.07 C99.75,215.87 102.7,212.51 105.01,209.32 C107.32,206.12 108.54,203.49 109.7,200.92 C110.86,198.34 111.49,196.72 111.97,193.86 C112.46,191 112.48,187.25 112.63,183.78 C112.79,180.31 112.85,174.82 112.89,173.03" fill="none" stroke="#f2545a" stroke-width="1.15" stroke-linejoin="round" stroke-linecap="round"/>
<path d="M26.9,197.22 C26.99,199.46 27.14,207.19 27.45,210.66 C27.76,214.13 28.09,216.09 28.73,218.05 C29.38,220.01 29.77,219.73 31.3,222.42 C32.83,225.11 35.4,230.93 37.9,234.18 C40.41,237.43 42.67,239.72 46.34,241.91 C50,244.09 54.65,245.21 59.9,247.28 C65.16,249.36 71.88,251.99 77.87,254.34 C83.86,256.69 89.82,259.32 95.84,261.4 C101.86,263.47 108.31,265.26 113.99,266.77 C119.68,268.28 125.82,269.46 129.94,270.47 C134.07,271.48 136.24,272.15 138.74,272.82 C141.25,273.49 143.94,274.22 144.98,274.5" fill="none" stroke="#f2545a" stroke-width="1.15" stroke-linejoin="round" stroke-linecap="round"/>
<rect x="26.9" y="156.6" width="146.9" height="118" fill="none" stroke="#3c3c3c" stroke-width="1.1"/>
<line x1="145.1" y1="213.7" x2="160.5" y2="213.7" stroke="#f2545a" stroke-width="1.2" opacity="0.75"/>
<line x1="145.1" y1="222.1" x2="160.5" y2="222.1" stroke="#f79a2e" stroke-width="1.2" opacity="0.75"/>
<line x1="145.1" y1="230.2" x2="160.5" y2="230.2" stroke="#15998f" stroke-width="1.2" opacity="0.75"/>
<line x1="145.1" y1="238.7" x2="160.5" y2="238.7" stroke="#d57df5" stroke-width="1.2" opacity="0.75"/>
<line x1="145.1" y1="247" x2="160.5" y2="247" stroke="#c68d32" stroke-width="1.2" opacity="0.75"/>
<line x1="145.1" y1="255.4" x2="160.5" y2="255.4" stroke="#97aae2" stroke-width="1.2" opacity="0.75"/>
<line x1="145.1" y1="263.4" x2="160.5" y2="263.4" stroke="#3fd3a8" stroke-width="1.2" opacity="0.75"/>
<line x1="204.5" y1="274.8" x2="206.7" y2="274.8" stroke="#3c3c3c" stroke-width="1"/>
<line x1="204.5" y1="241" x2="206.7" y2="241" stroke="#3c3c3c" stroke-width="1"/>
<line x1="204.5" y1="207.2" x2="206.7" y2="207.2" stroke="#3c3c3c" stroke-width="1"/>
<line x1="204.5" y1="173.4" x2="206.7" y2="173.4" stroke="#3c3c3c" stroke-width="1"/>
<line x1="205.3" y1="257.9" x2="206.7" y2="257.9" stroke="#3c3c3c" stroke-width="1"/>
<line x1="205.3" y1="224.1" x2="206.7" y2="224.1" stroke="#3c3c3c" stroke-width="1"/>
<line x1="205.3" y1="190.3" x2="206.7" y2="190.3" stroke="#3c3c3c" stroke-width="1"/>
<line x1="206.8" y1="274.7" x2="206.8" y2="276.9" stroke="#3c3c3c" stroke-width="1"/>
<line x1="227.63" y1="274.7" x2="227.63" y2="276.9" stroke="#3c3c3c" stroke-width="1"/>
<line x1="248.46" y1="274.7" x2="248.46" y2="276.9" stroke="#3c3c3c" stroke-width="1"/>
<line x1="269.29" y1="274.7" x2="269.29" y2="276.9" stroke="#3c3c3c" stroke-width="1"/>
<line x1="290.12" y1="274.7" x2="290.12" y2="276.9" stroke="#3c3c3c" stroke-width="1"/>
<line x1="310.95" y1="274.7" x2="310.95" y2="276.9" stroke="#3c3c3c" stroke-width="1"/>
<line x1="331.78" y1="274.7" x2="331.78" y2="276.9" stroke="#3c3c3c" stroke-width="1"/>
<line x1="352.61" y1="274.7" x2="352.61" y2="276.9" stroke="#3c3c3c" stroke-width="1"/>
<line x1="217.22" y1="274.7" x2="217.22" y2="276.1" stroke="#3c3c3c" stroke-width="1"/>
<line x1="238.05" y1="274.7" x2="238.05" y2="276.1" stroke="#3c3c3c" stroke-width="1"/>
<line x1="258.88" y1="274.7" x2="258.88" y2="276.1" stroke="#3c3c3c" stroke-width="1"/>
<line x1="279.71" y1="274.7" x2="279.71" y2="276.1" stroke="#3c3c3c" stroke-width="1"/>
<line x1="300.54" y1="274.7" x2="300.54" y2="276.1" stroke="#3c3c3c" stroke-width="1"/>
<line x1="321.37" y1="274.7" x2="321.37" y2="276.1" stroke="#3c3c3c" stroke-width="1"/>
<line x1="342.2" y1="274.7" x2="342.2" y2="276.1" stroke="#3c3c3c" stroke-width="1"/>
<path d="M206.8,220.04 C207.01,220.74 207.2,222.51 208.09,224.23 C208.97,225.95 210.55,228.43 212.11,230.36 C213.66,232.3 215.65,234.08 217.41,235.83 C219.18,237.57 220.83,239.33 222.72,240.81 C224.62,242.29 226.89,243.59 228.79,244.71 C230.68,245.82 232.07,246.6 234.1,247.49 C236.12,248.39 238.52,249.07 240.92,250.06 C243.32,251.04 246.1,252.26 248.5,253.41 C250.9,254.55 253.05,255.72 255.33,256.94 C257.6,258.15 260.13,259.61 262.15,260.7 C264.17,261.79 265.69,262.4 267.46,263.48 C269.23,264.56 271.12,265.9 272.76,267.18 C274.41,268.45 276.05,270.12 277.31,271.15 C278.58,272.18 279.46,272.75 280.35,273.35 C281.23,273.96 282.24,274.56 282.62,274.8" fill="none" stroke="#3fd3a8" stroke-width="1.15" stroke-linejoin="round" stroke-linecap="round"/>
<line x1="207.7" y1="180.16" x2="207.7" y2="220.04" stroke="#3fd3a8" stroke-width="1"/>
<path d="M206.8,274.8 L208.47,273.79 L210.13,272.66 L211.8,271.12 L213.47,269.17 L215.13,267.24 L216.8,265.61 L218.46,263.99 L220.13,262.36 L221.8,260.73 L223.46,259.1 L225.13,257.82 L226.8,256.69 L228.46,255.56 L230.13,254.44 L231.8,253.31 L233.46,252.22 L235.13,251.22 L236.8,250.21 L238.46,249.21 L240.13,248.21 L241.79,247.21 L243.46,246.37 L245.13,245.55 L246.79,244.73 L248.46,243.91 L250.13,243.09 L251.79,242.35 L253.46,241.67 L255.13,240.99 L256.79,240.3 L258.46,239.59 L260.12,238.84 L261.79,238.03 L263.46,237.28 L265.12,236.34 L266.79,235.11 L268.46,233.39 L270.12,231.46 L270.54,230.97 L270.96,230.48 L271.37,229.98 L271.79,229.49 L272.21,228.99 L272.62,228.49 L273.04,227.98 L273.46,227.48 L273.87,226.97 L274.29,226.46 L274.71,225.79 L275.12,224.71 L275.54,223.62 L275.96,222.51 L276.37,221.39 L276.79,220.25 L277.21,219.12 L277.62,217.97 L278.04,216.82 L278.46,215.67 L278.87,214.52 L279.29,211.92 L279.71,207.85 L280.12,203.78 L280.54,199.71 L280.95,195.07 L281.37,185.29 L281.79,175.51 L282.08,168.67" fill="none" stroke="#3fd3a8" stroke-width="1.15" stroke-linejoin="round" stroke-linecap="round"/>
<path d="M206.8,218.02 C207.03,218.79 207.23,220.79 208.18,222.65 C209.13,224.51 210.82,227.1 212.49,229.18 C214.15,231.26 216.28,233.23 218.17,235.13 C220.07,237.03 221.83,239.02 223.86,240.58 C225.89,242.14 228.33,243.38 230.36,244.5 C232.39,245.62 233.88,246.33 236.05,247.29 C238.21,248.25 240.78,249.17 243.36,250.27 C245.93,251.37 248.91,252.64 251.48,253.9 C254.05,255.15 256.35,256.55 258.79,257.79 C261.23,259.03 263.94,260.26 266.1,261.31 C268.27,262.36 269.89,263.04 271.79,264.1 C273.69,265.15 275.72,266.44 277.48,267.64 C279.24,268.84 281,270.34 282.35,271.3 C283.7,272.25 284.65,272.8 285.6,273.38 C286.55,273.97 287.63,274.56 288.04,274.8" fill="none" stroke="#97aae2" stroke-width="1.15" stroke-linejoin="round" stroke-linecap="round"/>
<line x1="207.7" y1="176.78" x2="207.7" y2="218.02" stroke="#97aae2" stroke-width="1"/>
<path d="M206.8,274.8 L208.47,273.84 L210.13,272.79 L211.8,271.37 L213.47,269.58 L215.13,267.81 L216.8,266.25 L218.46,264.68 L220.13,263.12 L221.8,261.55 L223.46,259.99 L225.13,258.72 L226.8,257.59 L228.46,256.46 L230.13,255.34 L231.8,254.21 L233.46,253.11 L235.13,252.09 L236.8,251.07 L238.46,250.04 L240.13,249.02 L241.79,248 L243.46,247.17 L245.13,246.36 L246.79,245.55 L248.46,244.74 L250.13,243.93 L251.79,243.2 L253.46,242.54 L255.13,241.87 L256.79,241.2 L258.46,240.52 L260.12,239.83 L261.79,239.1 L263.46,238.49 L265.12,237.79 L266.79,236.93 L268.46,235.56 L270.12,233.93 L271.79,232.25 L273.46,230.51 L275.12,228.71 L275.54,228.22 L275.96,227.73 L276.37,227.24 L276.79,226.75 L277.21,226.25 L277.62,225.76 L278.04,225.26 L278.46,224.76 L278.87,224.26 L279.29,223.75 L279.71,223.25 L280.12,222.35 L280.54,221.4 L280.95,220.42 L281.37,219.42 L281.79,218.4 L282.2,217.37 L282.62,216.21 L283.04,215.04 L283.45,213.87 L283.87,212.7 L284.29,211.05 L284.7,207.45 L285.12,203.85 L285.54,200.24 L285.95,196.3 L286.37,188.04 L286.79,178.83 L287.2,169.63" fill="none" stroke="#97aae2" stroke-width="1.15" stroke-linejoin="round" stroke-linecap="round"/>
<path d="M206.8,215.99 C207.04,216.82 207.25,218.99 208.24,220.96 C209.22,222.94 210.99,225.65 212.72,227.86 C214.45,230.06 216.67,232.2 218.64,234.18 C220.61,236.17 222.45,238.13 224.56,239.77 C226.67,241.41 229.21,242.82 231.33,244 C233.44,245.19 234.99,245.84 237.25,246.86 C239.5,247.88 242.18,248.93 244.86,250.11 C247.53,251.28 250.64,252.64 253.31,253.92 C255.99,255.21 258.39,256.49 260.92,257.82 C263.46,259.15 266.28,260.77 268.54,261.92 C270.79,263.07 272.48,263.68 274.46,264.71 C276.43,265.74 278.54,266.99 280.38,268.11 C282.21,269.23 284.04,270.56 285.45,271.44 C286.86,272.33 287.85,272.85 288.83,273.41 C289.82,273.97 290.95,274.57 291.37,274.8" fill="none" stroke="#c68d32" stroke-width="1.15" stroke-linejoin="round" stroke-linecap="round"/>
<line x1="207.7" y1="188.61" x2="207.7" y2="215.99" stroke="#c68d32" stroke-width="1"/>
<path d="M206.8,274.8 L208.47,273.9 L210.13,272.92 L211.8,271.62 L213.47,269.99 L215.13,268.38 L216.8,266.88 L218.46,265.37 L220.13,263.87 L221.8,262.37 L223.46,260.87 L225.13,259.62 L226.8,258.49 L228.46,257.36 L230.13,256.24 L231.8,255.11 L233.46,254.01 L235.13,252.96 L236.8,251.92 L238.46,250.88 L240.13,249.83 L241.79,248.79 L243.46,247.96 L245.13,247.16 L246.79,246.37 L248.46,245.57 L250.13,244.77 L251.79,244.04 L253.46,243.38 L255.13,242.72 L256.79,242.05 L258.46,241.37 L260.12,240.67 L261.79,239.94 L263.46,239.27 L265.12,238.52 L266.79,237.65 L268.46,236.36 L270.12,234.85 L271.79,233.29 L273.46,231.67 L275.12,229.99 L276.79,228.25 L278.46,226.48 L278.87,226.02 L279.29,225.52 L279.71,225.03 L280.12,224.58 L280.54,224.11 L280.95,223.64 L281.37,223.16 L281.79,222.66 L282.2,222.17 L282.62,221.67 L283.04,221.16 L283.45,220.49 L283.87,219.58 L284.29,218.65 L284.7,217.72 L285.12,216.79 L285.54,215.85 L285.95,214.81 L286.37,213.62 L286.79,212.44 L287.2,211.25 L287.62,210.06 L288.04,207.7 L288.45,204.57 L288.87,201.43 L289.29,198.3 L289.7,193.05 L290.12,184.41 L290.54,175.77 L290.79,170.58" fill="none" stroke="#c68d32" stroke-width="1.15" stroke-linejoin="round" stroke-linecap="round"/>
<path d="M206.8,213.96 C207.05,214.86 207.27,217.23 208.31,219.35 C209.34,221.46 211.19,224.3 213.01,226.64 C214.83,228.97 217.15,231.29 219.22,233.37 C221.29,235.44 223.22,237.34 225.43,239.07 C227.65,240.79 230.31,242.47 232.53,243.73 C234.75,244.99 236.38,245.57 238.74,246.63 C241.11,247.68 243.92,248.82 246.73,250.06 C249.54,251.31 252.79,252.8 255.6,254.1 C258.41,255.4 260.93,256.48 263.59,257.88 C266.25,259.29 269.21,261.29 271.58,262.53 C273.94,263.77 275.72,264.32 277.79,265.33 C279.86,266.34 282.08,267.53 284,268.58 C285.92,269.62 287.85,270.78 289.32,271.59 C290.8,272.4 291.84,272.91 292.87,273.44 C293.91,273.97 295.09,274.57 295.54,274.8" fill="none" stroke="#d57df5" stroke-width="1.15" stroke-linejoin="round" stroke-linecap="round"/>
<line x1="207.7" y1="183.54" x2="207.7" y2="213.96" stroke="#d57df5" stroke-width="1"/>
<path d="M206.8,274.8 L208.47,273.95 L210.13,273.05 L211.8,271.87 L213.47,270.41 L215.13,268.95 L216.8,267.51 L218.46,266.07 L220.13,264.63 L221.8,263.19 L223.46,261.75 L225.13,260.52 L226.8,259.39 L228.46,258.27 L230.13,257.14 L231.8,256.01 L233.46,254.9 L235.13,253.84 L236.8,252.77 L238.46,251.71 L240.13,250.65 L241.79,249.58 L243.46,248.76 L245.13,247.97 L246.79,247.18 L248.46,246.39 L250.13,245.59 L251.79,244.87 L253.46,244.22 L255.13,243.56 L256.79,242.89 L258.46,242.21 L260.12,241.5 L261.79,240.76 L263.46,240.04 L265.12,239.26 L266.79,238.4 L268.46,237.26 L270.12,235.96 L271.79,234.56 L273.46,233.09 L275.12,231.56 L276.79,229.97 L278.46,228.35 L280.12,226.75 L281.79,225.18 L283.45,223.49 L283.87,223 L284.29,222.49 L284.7,221.99 L285.12,221.48 L285.54,220.97 L285.95,220.46 L286.37,219.94 L286.79,219.42 L287.2,218.9 L287.62,218.38 L288.04,217.68 L288.45,216.85 L288.87,216.02 L289.29,215.19 L289.7,214.35 L290.12,213.52 L290.54,212.46 L290.95,211.25 L291.37,210.05 L291.79,208.84 L292.2,207.63 L292.62,205.26 L293.04,202.6 L293.45,199.93 L293.87,197.27 L294.29,190.91 L294.7,182.84 L295.12,174.77 L295.29,171.54" fill="none" stroke="#d57df5" stroke-width="1.15" stroke-linejoin="round" stroke-linecap="round"/>
<path d="M206.8,211.93 C207.07,212.92 207.31,215.59 208.41,217.87 C209.52,220.16 211.5,223.14 213.45,225.64 C215.4,228.14 217.88,230.69 220.1,232.87 C222.31,235.05 224.37,236.92 226.75,238.72 C229.12,240.52 231.97,242.31 234.35,243.67 C236.72,245.02 238.46,245.72 240.99,246.83 C243.53,247.94 246.54,249.03 249.54,250.34 C252.55,251.66 256.03,253.2 259.04,254.72 C262.05,256.25 264.74,258.08 267.59,259.48 C270.44,260.88 273.61,262.06 276.14,263.14 C278.67,264.22 280.57,264.97 282.79,265.95 C285,266.93 287.38,268.08 289.44,269.04 C291.49,270.01 293.55,271 295.14,271.74 C296.72,272.48 297.83,272.96 298.94,273.47 C300.04,273.98 301.31,274.58 301.78,274.8" fill="none" stroke="#15998f" stroke-width="1.15" stroke-linejoin="round" stroke-linecap="round"/>
<line x1="207.7" y1="178.47" x2="207.7" y2="211.93" stroke="#15998f" stroke-width="1"/>
<path d="M206.8,274.8 L208.47,274.01 L210.13,273.19 L211.8,272.12 L213.47,270.82 L215.13,269.51 L216.8,268.14 L218.46,266.76 L220.13,265.38 L221.8,264.01 L223.46,262.63 L225.13,261.42 L226.8,260.29 L228.46,259.17 L230.13,258.04 L231.8,256.91 L233.46,255.8 L235.13,254.71 L236.8,253.63 L238.46,252.54 L240.13,251.46 L241.79,250.37 L243.46,249.56 L245.13,248.78 L246.79,248.01 L248.46,247.23 L250.13,246.46 L251.79,245.75 L253.46,245.12 L255.13,244.49 L256.79,243.86 L258.46,243.23 L260.12,242.6 L261.79,241.96 L263.46,241.34 L265.12,240.72 L266.79,240.09 L268.46,239.26 L270.12,238.31 L271.79,237.35 L273.46,236.38 L275.12,235.36 L276.79,234.29 L278.46,233.21 L280.12,232.25 L281.79,231.51 L283.45,230.7 L285.12,229.71 L286.79,228.35 L288.45,226.38 L288.87,225.79 L289.29,225.15 L289.7,224.49 L290.12,223.79 L290.54,223.07 L290.95,222.33 L291.37,221.57 L291.79,220.8 L292.2,220.02 L292.62,219.23 L293.04,218.43 L293.45,217.63 L293.87,216.82 L294.29,216.01 L294.7,215.2 L295.12,214.39 L295.54,213.57 L295.95,212.75 L296.37,211.25 L296.79,208.72 L297.2,206.19 L297.62,203.65 L298.04,201.12 L298.45,198.58 L298.87,196.05 L299.29,189.39 L299.7,182.72 L300.12,176.06 L300.29,173.4" fill="none" stroke="#15998f" stroke-width="1.15" stroke-linejoin="round" stroke-linecap="round"/>
<path d="M206.8,209.9 C207.1,211.02 207.36,214.1 208.57,216.61 C209.79,219.12 211.96,222.27 214.09,224.98 C216.23,227.68 218.95,230.5 221.38,232.82 C223.81,235.14 226.07,237.03 228.67,238.89 C231.28,240.76 234.4,242.6 237,244.02 C239.61,245.44 241.52,246.21 244.29,247.41 C247.07,248.62 250.37,249.86 253.67,251.23 C256.97,252.61 260.78,254.19 264.08,255.67 C267.38,257.15 270.33,258.77 273.46,260.11 C276.58,261.46 280.05,262.68 282.83,263.75 C285.61,264.83 287.69,265.61 290.12,266.57 C292.55,267.53 295.15,268.62 297.41,269.51 C299.67,270.4 301.92,271.22 303.66,271.89 C305.4,272.55 306.61,273.01 307.83,273.5 C309.04,273.98 310.43,274.58 310.95,274.8" fill="none" stroke="#f79a2e" stroke-width="1.15" stroke-linejoin="round" stroke-linecap="round"/>
<line x1="207.7" y1="175.09" x2="207.7" y2="209.9" stroke="#f79a2e" stroke-width="1"/>
<path d="M206.8,274.8 L208.47,274.07 L210.13,273.32 L211.8,272.37 L213.47,271.23 L215.13,270.08 L216.8,268.77 L218.46,267.45 L220.13,266.14 L221.8,264.82 L223.46,263.51 L225.13,262.32 L226.8,261.2 L228.46,260.07 L230.13,258.94 L231.8,257.82 L233.46,256.69 L235.13,255.59 L236.8,254.48 L238.46,253.38 L240.13,252.27 L241.79,251.17 L243.46,250.36 L245.13,249.59 L246.79,248.83 L248.46,248.06 L250.13,247.3 L251.79,246.6 L253.46,245.98 L255.13,245.36 L256.79,244.73 L258.46,244.11 L260.12,243.48 L261.79,242.86 L263.46,242.19 L265.12,241.51 L266.79,240.83 L268.46,240.04 L270.12,239.18 L271.79,238.33 L273.46,237.44 L275.12,236.52 L276.79,235.55 L278.46,234.58 L280.12,233.63 L281.79,232.65 L283.45,231.63 L285.12,230.58 L286.79,229.48 L288.45,228.33 L290.12,227.11 L291.79,225.83 L293.45,224.48 L295.12,223.2 L295.54,222.89 L295.95,222.56 L296.37,222.22 L296.79,221.87 L297.2,221.51 L297.62,221.14 L298.04,220.73 L298.45,219.99 L298.87,219.24 L299.29,218.47 L299.7,217.69 L300.12,216.9 L300.54,216.11 L300.95,215.31 L301.37,214.51 L301.78,213.71 L302.2,212.91 L302.62,212.1 L303.03,211.3 L303.45,210.35 L303.87,208.08 L304.28,205.81 L304.7,203.54 L305.12,201.27 L305.53,199 L305.95,196.73 L306.37,190.58 L306.78,182.77 L307.2,174.96 L307.28,173.4" fill="none" stroke="#f79a2e" stroke-width="1.15" stroke-linejoin="round" stroke-linecap="round"/>
<path d="M206.8,207.88 C207.14,209.22 207.45,213.06 208.87,215.93 C210.29,218.8 212.82,222.08 215.32,225.1 C217.81,228.12 220.99,231.49 223.83,234.06 C226.67,236.62 229.3,238.55 232.35,240.51 C235.39,242.46 239.04,244.35 242.08,245.76 C245.12,247.17 247.35,247.66 250.59,248.97 C253.84,250.29 257.69,252.28 261.54,253.66 C265.39,255.05 269.85,256.12 273.71,257.3 C277.56,258.48 281,259.57 284.65,260.75 C288.3,261.93 292.36,263.29 295.6,264.36 C298.85,265.43 301.28,266.25 304.12,267.19 C306.96,268.12 310,269.17 312.63,269.98 C315.27,270.79 317.9,271.44 319.93,272.03 C321.96,272.62 323.38,273.07 324.8,273.53 C326.22,273.99 327.84,274.59 328.45,274.8" fill="none" stroke="#f2545a" stroke-width="1.15" stroke-linejoin="round" stroke-linecap="round"/>
<line x1="207.7" y1="207.2" x2="207.7" y2="207.88" stroke="#f2545a" stroke-width="1"/>
<path d="M206.8,274.8 L208.47,274.12 L210.13,273.45 L211.8,272.62 L213.47,271.65 L215.13,270.65 L216.8,269.4 L218.46,268.15 L220.13,266.89 L221.8,265.64 L223.46,264.39 L225.13,263.22 L226.8,262.1 L228.46,260.97 L230.13,259.84 L231.8,258.72 L233.46,257.59 L235.13,256.46 L236.8,255.34 L238.46,254.21 L240.13,253.08 L241.79,251.96 L243.46,251.15 L245.13,250.4 L246.79,249.64 L248.46,248.88 L250.13,248.13 L251.79,247.44 L253.46,246.81 L255.13,246.19 L256.79,245.55 L258.46,244.91 L260.12,244.25 L261.79,243.58 L263.46,242.78 L265.12,241.94 L266.79,241.06 L268.46,240.13 L270.12,239.13 L271.79,238.06 L273.46,237.02 L275.12,236.23 L276.79,235.45 L278.46,234.66 L280.12,233.85 L281.79,232.78 L283.45,231.71 L285.12,230.64 L286.79,229.58 L288.45,228.51 L290.12,227.44 L291.79,226.37 L293.45,225.3 L295.12,224.38 L296.79,223.48 L298.45,222.41 L300.12,221.22 L301.78,219.95 L303.45,218.62 L305.12,217.27 L306.78,215.9 L307.2,215.52 L307.62,215.01 L308.03,214.5 L308.45,213.98 L308.87,213.47 L309.28,212.95 L309.7,212.44 L310.12,211.92 L310.53,211.41 L310.95,210.89 L311.37,210.37 L311.78,209.86 L312.2,209.34 L312.62,208.82 L313.03,208.31 L313.45,207.79 L313.87,207.27 L314.28,206.61 L314.7,205.35 L315.12,204.09 L315.53,202.84 L315.95,201.58 L316.37,200.32 L316.78,199.06 L317.2,197.81 L317.62,196.55 L318.03,192.23 L318.45,185.87 L318.87,179.5 L319.2,174.41" fill="none" stroke="#f2545a" stroke-width="1.15" stroke-linejoin="round" stroke-linecap="round"/>
<rect x="206.7" y="157.4" width="145.8" height="117.3" fill="none" stroke="#3c3c3c" stroke-width="1.1"/>
<line x1="322.7" y1="215.7" x2="337.9" y2="215.7" stroke="#f2545a" stroke-width="1.2" opacity="0.75"/>
<line x1="322.7" y1="223.9" x2="337.9" y2="223.9" stroke="#f79a2e" stroke-width="1.2" opacity="0.75"/>
<line x1="322.7" y1="232.2" x2="337.9" y2="232.2" stroke="#15998f" stroke-width="1.2" opacity="0.75"/>
<line x1="322.7" y1="240.6" x2="337.9" y2="240.6" stroke="#d57df5" stroke-width="1.2" opacity="0.75"/>
<line x1="322.7" y1="249.1" x2="337.9" y2="249.1" stroke="#c68d32" stroke-width="1.2" opacity="0.75"/>
<line x1="322.7" y1="257.2" x2="337.9" y2="257.2" stroke="#97aae2" stroke-width="1.2" opacity="0.75"/>
<line x1="322.7" y1="265.3" x2="337.9" y2="265.3" stroke="#3fd3a8" stroke-width="1.2" opacity="0.75"/>
<line x1="390.2" y1="277.3" x2="392.4" y2="277.3" stroke="#3c3c3c" stroke-width="1"/>
<line x1="390.2" y1="247.9" x2="392.4" y2="247.9" stroke="#3c3c3c" stroke-width="1"/>
<line x1="390.2" y1="218.5" x2="392.4" y2="218.5" stroke="#3c3c3c" stroke-width="1"/>
<line x1="390.2" y1="186.8" x2="392.4" y2="186.8" stroke="#3c3c3c" stroke-width="1"/>
<line x1="390.2" y1="157.5" x2="392.4" y2="157.5" stroke="#3c3c3c" stroke-width="1"/>
<line x1="391" y1="262.6" x2="392.4" y2="262.6" stroke="#3c3c3c" stroke-width="1"/>
<line x1="391" y1="233.2" x2="392.4" y2="233.2" stroke="#3c3c3c" stroke-width="1"/>
<line x1="391" y1="172.15" x2="392.4" y2="172.15" stroke="#3c3c3c" stroke-width="1"/>
<line x1="392.4" y1="277.3" x2="392.4" y2="279.5" stroke="#3c3c3c" stroke-width="1"/>
<line x1="422.14" y1="277.3" x2="422.14" y2="279.5" stroke="#3c3c3c" stroke-width="1"/>
<line x1="451.88" y1="277.3" x2="451.88" y2="279.5" stroke="#3c3c3c" stroke-width="1"/>
<line x1="481.62" y1="277.3" x2="481.62" y2="279.5" stroke="#3c3c3c" stroke-width="1"/>
<line x1="511.36" y1="277.3" x2="511.36" y2="279.5" stroke="#3c3c3c" stroke-width="1"/>
<line x1="541.1" y1="277.3" x2="541.1" y2="279.5" stroke="#3c3c3c" stroke-width="1"/>
<line x1="407.27" y1="277.3" x2="407.27" y2="278.7" stroke="#3c3c3c" stroke-width="1"/>
<line x1="437.01" y1="277.3" x2="437.01" y2="278.7" stroke="#3c3c3c" stroke-width="1"/>
<line x1="466.75" y1="277.3" x2="466.75" y2="278.7" stroke="#3c3c3c" stroke-width="1"/>
<line x1="496.49" y1="277.3" x2="496.49" y2="278.7" stroke="#3c3c3c" stroke-width="1"/>
<line x1="526.23" y1="277.3" x2="526.23" y2="278.7" stroke="#3c3c3c" stroke-width="1"/>
<path d="M392.8,225.6 C397.33,225.6 410.47,225.57 420,225.6 C429.53,225.63 440,225.7 450,225.8 C460,225.9 470,226.03 480,226.2 C490,226.37 499.9,226.6 510,226.8 C520.1,227 535.5,227.3 540.6,227.4" fill="none" stroke="#f7953f" stroke-width="3.1" stroke-linejoin="round" stroke-linecap="round"/>
<path d="M393.6,257.5 C393.63,256.58 393.63,253.5 393.8,252 C393.97,250.5 394.15,249.23 394.6,248.5 C395.05,247.77 395.93,247.7 396.5,247.6 C397.07,247.5 396.42,247.33 398,247.9 C399.58,248.47 403.17,250.03 406,251 C408.83,251.97 411.33,252.77 415,253.7 C418.67,254.63 423.83,255.77 428,256.6 C432.17,257.43 436,258.08 440,258.7 C444,259.32 447.5,259.75 452,260.3 C456.5,260.85 462.17,261.48 467,262 C471.83,262.52 476.17,262.97 481,263.4 C485.83,263.83 491.17,264.23 496,264.6 C500.83,264.97 505.17,265.25 510,265.6 C514.83,265.95 519.9,266.35 525,266.7 C530.1,267.05 538,267.53 540.6,267.7" fill="none" stroke="#6b8cd8" stroke-width="3.2" stroke-linejoin="round" stroke-linecap="round"/>
<line x1="393.6" y1="249" x2="393.6" y2="258.8" stroke="#6b8cd8" stroke-width="2.2"/>
<rect x="392.6" y="183.2" width="1.8" height="1.8" fill="#6b8cd8"/>
<rect x="392.9" y="192.3" width="1.8" height="1.8" fill="#6b8cd8"/>
<line x1="393.5" y1="202" x2="393.5" y2="211" stroke="#f7953f" stroke-width="2"/>
<path d="M393.5,200.81 L394.6,202.79 L392.4,202.79 Z" fill="#f7953f"/>
<path d="M393.5,219.22 L394.5,221.02 L392.5,221.02 Z" fill="#f7953f"/>
<rect x="392.4" y="157.5" width="148.7" height="119.8" fill="none" stroke="#3c3c3c" stroke-width="1.1"/>
<rect x="391.4" y="187.2" width="2" height="2.2" fill="#fff"/>
<line x1="390.4" y1="188.2" x2="394.4" y2="186.3" stroke="#3c3c3c" stroke-width="1.05"/>
<line x1="390.4" y1="190.3" x2="394.4" y2="188.4" stroke="#3c3c3c" stroke-width="1.05"/>
<rect x="540.1" y="187.2" width="2" height="2.2" fill="#fff"/>
<line x1="539.1" y1="188.2" x2="543.1" y2="186.3" stroke="#3c3c3c" stroke-width="1.05"/>
<line x1="539.1" y1="190.3" x2="543.1" y2="188.4" stroke="#3c3c3c" stroke-width="1.05"/>
<rect x="501.3" y="163.2" width="2.4" height="2.4" fill="#6b8cd8"/>
<path d="M502.7,171.98 L504.2,174.68 L501.2,174.68 Z" fill="#f7953f"/>
<line x1="51.9" y1="416.8" x2="54.5" y2="416.8" stroke="#3c3c3c" stroke-width="1"/>
<line x1="51.9" y1="390.5" x2="54.5" y2="390.5" stroke="#3c3c3c" stroke-width="1"/>
<line x1="51.9" y1="363.2" x2="54.5" y2="363.2" stroke="#3c3c3c" stroke-width="1"/>
<line x1="51.9" y1="337" x2="54.5" y2="337" stroke="#3c3c3c" stroke-width="1"/>
<line x1="51.9" y1="311.2" x2="54.5" y2="311.2" stroke="#3c3c3c" stroke-width="1"/>
<line x1="53.1" y1="403.6" x2="54.5" y2="403.6" stroke="#3c3c3c" stroke-width="1"/>
<line x1="53.1" y1="377.6" x2="54.5" y2="377.6" stroke="#3c3c3c" stroke-width="1"/>
<line x1="53.1" y1="350.1" x2="54.5" y2="350.1" stroke="#3c3c3c" stroke-width="1"/>
<line x1="53.1" y1="324.1" x2="54.5" y2="324.1" stroke="#3c3c3c" stroke-width="1"/>
<line x1="54.5" y1="416.8" x2="54.5" y2="419.4" stroke="#3c3c3c" stroke-width="1"/>
<line x1="99.28" y1="416.8" x2="99.28" y2="419.4" stroke="#3c3c3c" stroke-width="1"/>
<line x1="144.07" y1="416.8" x2="144.07" y2="419.4" stroke="#3c3c3c" stroke-width="1"/>
<line x1="188.85" y1="416.8" x2="188.85" y2="419.4" stroke="#3c3c3c" stroke-width="1"/>
<line x1="233.64" y1="416.8" x2="233.64" y2="419.4" stroke="#3c3c3c" stroke-width="1"/>
<line x1="278.42" y1="416.8" x2="278.42" y2="419.4" stroke="#3c3c3c" stroke-width="1"/>
<line x1="323.2" y1="416.8" x2="323.2" y2="419.4" stroke="#3c3c3c" stroke-width="1"/>
<line x1="76.89" y1="416.8" x2="76.89" y2="418.2" stroke="#3c3c3c" stroke-width="1"/>
<line x1="121.68" y1="416.8" x2="121.68" y2="418.2" stroke="#3c3c3c" stroke-width="1"/>
<line x1="166.46" y1="416.8" x2="166.46" y2="418.2" stroke="#3c3c3c" stroke-width="1"/>
<line x1="211.24" y1="416.8" x2="211.24" y2="418.2" stroke="#3c3c3c" stroke-width="1"/>
<line x1="256.03" y1="416.8" x2="256.03" y2="418.2" stroke="#3c3c3c" stroke-width="1"/>
<line x1="300.81" y1="416.8" x2="300.81" y2="418.2" stroke="#3c3c3c" stroke-width="1"/>
<line x1="323.2" y1="416.8" x2="325.8" y2="416.8" stroke="#3c3c3c" stroke-width="1"/>
<line x1="323.2" y1="399.2" x2="325.8" y2="399.2" stroke="#3c3c3c" stroke-width="1"/>
<line x1="323.2" y1="381.6" x2="325.8" y2="381.6" stroke="#3c3c3c" stroke-width="1"/>
<line x1="323.2" y1="364" x2="325.8" y2="364" stroke="#3c3c3c" stroke-width="1"/>
<line x1="323.2" y1="346.4" x2="325.8" y2="346.4" stroke="#3c3c3c" stroke-width="1"/>
<line x1="323.2" y1="328.8" x2="325.8" y2="328.8" stroke="#3c3c3c" stroke-width="1"/>
<line x1="323.2" y1="311.2" x2="325.8" y2="311.2" stroke="#3c3c3c" stroke-width="1"/>
<line x1="323.2" y1="408" x2="324.7" y2="408" stroke="#3c3c3c" stroke-width="1"/>
<line x1="323.2" y1="390.4" x2="324.7" y2="390.4" stroke="#3c3c3c" stroke-width="1"/>
<line x1="323.2" y1="372.8" x2="324.7" y2="372.8" stroke="#3c3c3c" stroke-width="1"/>
<line x1="323.2" y1="355.2" x2="324.7" y2="355.2" stroke="#3c3c3c" stroke-width="1"/>
<line x1="323.2" y1="337.6" x2="324.7" y2="337.6" stroke="#3c3c3c" stroke-width="1"/>
<line x1="323.2" y1="320" x2="324.7" y2="320" stroke="#3c3c3c" stroke-width="1"/>
<line x1="55" y1="328.6" x2="322.7" y2="328.6" stroke="#8c8c8c" stroke-width="4.6"/>
<line x1="55" y1="328.6" x2="322.7" y2="328.6" stroke="#6c6c6c" stroke-width="1.8"/>
<line x1="55.6" y1="324.5" x2="55.6" y2="330.5" stroke="#808080" stroke-width="2"/>
<path d="M55,367.2 C55.33,367.43 56.27,368.13 57,368.6 C57.73,369.07 58.57,369.62 59.4,370 C60.23,370.38 60.95,370.63 62,370.9 C63.05,371.17 64.03,371.32 65.7,371.6 C67.37,371.88 69.38,372.28 72,372.6 C74.62,372.92 76.73,373.15 81.4,373.5 C86.07,373.85 91.9,374.33 100,374.7 C108.1,375.07 118.33,375.38 130,375.7 C141.67,376.02 155,376.35 170,376.6 C185,376.85 203.33,377.03 220,377.2 C236.67,377.37 252.87,377.42 270,377.6 C287.13,377.78 314,378.18 322.8,378.3" fill="none" stroke="#f89d50" stroke-width="4" stroke-linejoin="round" stroke-linecap="round"/>
<circle cx="55.5" cy="323.6" r="1.4" fill="#f89d50"/>
<circle cx="56" cy="344.9" r="1.1" fill="#777"/>
<rect x="54.5" y="311.2" width="268.7" height="105.6" fill="none" stroke="#3c3c3c" stroke-width="1.1"/>
<rect x="53.5" y="363.4" width="2" height="2.2" fill="#fff"/>
<line x1="51.9" y1="364.4" x2="57.1" y2="362.5" stroke="#3c3c3c" stroke-width="1.05"/>
<line x1="51.9" y1="366.5" x2="57.1" y2="364.6" stroke="#3c3c3c" stroke-width="1.05"/>
<line x1="398.6" y1="418.9" x2="400.8" y2="418.9" stroke="#3c3c3c" stroke-width="1"/>
<line x1="398.6" y1="400.15" x2="400.8" y2="400.15" stroke="#3c3c3c" stroke-width="1"/>
<line x1="398.6" y1="381.4" x2="400.8" y2="381.4" stroke="#3c3c3c" stroke-width="1"/>
<line x1="398.6" y1="362.65" x2="400.8" y2="362.65" stroke="#3c3c3c" stroke-width="1"/>
<line x1="398.6" y1="343.9" x2="400.8" y2="343.9" stroke="#3c3c3c" stroke-width="1"/>
<line x1="398.6" y1="325.15" x2="400.8" y2="325.15" stroke="#3c3c3c" stroke-width="1"/>
<line x1="398.6" y1="306.4" x2="400.8" y2="306.4" stroke="#3c3c3c" stroke-width="1"/>
<line x1="399.4" y1="409.52" x2="400.8" y2="409.52" stroke="#3c3c3c" stroke-width="1"/>
<line x1="399.4" y1="390.77" x2="400.8" y2="390.77" stroke="#3c3c3c" stroke-width="1"/>
<line x1="399.4" y1="372.02" x2="400.8" y2="372.02" stroke="#3c3c3c" stroke-width="1"/>
<line x1="399.4" y1="353.27" x2="400.8" y2="353.27" stroke="#3c3c3c" stroke-width="1"/>
<line x1="399.4" y1="334.52" x2="400.8" y2="334.52" stroke="#3c3c3c" stroke-width="1"/>
<line x1="399.4" y1="315.77" x2="400.8" y2="315.77" stroke="#3c3c3c" stroke-width="1"/>
<line x1="400.8" y1="418.9" x2="400.8" y2="421.1" stroke="#3c3c3c" stroke-width="1"/>
<line x1="428.72" y1="418.9" x2="428.72" y2="421.1" stroke="#3c3c3c" stroke-width="1"/>
<line x1="456.64" y1="418.9" x2="456.64" y2="421.1" stroke="#3c3c3c" stroke-width="1"/>
<line x1="484.56" y1="418.9" x2="484.56" y2="421.1" stroke="#3c3c3c" stroke-width="1"/>
<line x1="512.48" y1="418.9" x2="512.48" y2="421.1" stroke="#3c3c3c" stroke-width="1"/>
<line x1="540.4" y1="418.9" x2="540.4" y2="421.1" stroke="#3c3c3c" stroke-width="1"/>
<line x1="414.76" y1="418.9" x2="414.76" y2="420.3" stroke="#3c3c3c" stroke-width="1"/>
<line x1="442.68" y1="418.9" x2="442.68" y2="420.3" stroke="#3c3c3c" stroke-width="1"/>
<line x1="470.6" y1="418.9" x2="470.6" y2="420.3" stroke="#3c3c3c" stroke-width="1"/>
<line x1="498.52" y1="418.9" x2="498.52" y2="420.3" stroke="#3c3c3c" stroke-width="1"/>
<line x1="526.44" y1="418.9" x2="526.44" y2="420.3" stroke="#3c3c3c" stroke-width="1"/>
<path d="M400.8,358.9 L429.7,386.65 L458.73,395.27 L488.05,406.15 L516.39,418.9" fill="none" stroke="#bcbcbc" stroke-width="1" stroke-linejoin="round" stroke-linecap="round"/>
<path d="M400.8,416.27 L429.7,396.4 L458.73,386.65 L488.05,376.52 L517.58,330.02 L520.93,306.4" fill="none" stroke="#bcbcbc" stroke-width="1" stroke-linejoin="round" stroke-linecap="round"/>
<path d="M400.8,358.9 L429.7,386.65 L458.73,395.65 L488.05,406.9 L515.48,418.9" fill="none" stroke="#f7c69c" stroke-width="1" stroke-linejoin="round" stroke-linecap="round"/>
<path d="M400.8,416.27 L429.7,396.02 L458.73,386.27 L488.05,375.77 L517.23,306.4" fill="none" stroke="#f7c69c" stroke-width="1" stroke-linejoin="round" stroke-linecap="round"/>
<path d="M400.8,354.4 L429.7,386.65 L458.73,396.4 L488.05,408.77 L511.08,418.9" fill="none" stroke="#a7baee" stroke-width="1" stroke-linejoin="round" stroke-linecap="round"/>
<path d="M400.8,416.27 L429.7,395.65 L458.73,385.9 L488.05,374.65 L510.8,306.4" fill="none" stroke="#a7baee" stroke-width="1" stroke-linejoin="round" stroke-linecap="round"/>
<path d="M400.8,358.15 L429.7,386.65 L458.73,396.77 L488.05,409.9 L509.69,418.9" fill="none" stroke="#f58ac8" stroke-width="1" stroke-linejoin="round" stroke-linecap="round"/>
<path d="M400.8,416.27 L429.7,395.27 L458.73,385.52 L488.05,373.9 L507.04,306.4" fill="none" stroke="#f58ac8" stroke-width="1" stroke-linejoin="round" stroke-linecap="round"/>
<path d="M400.8,352.9 L429.7,386.65 L458.73,397.15 L488.05,411.02 L508.29,418.9" fill="none" stroke="#7b7cf0" stroke-width="1" stroke-linejoin="round" stroke-linecap="round"/>
<path d="M400.8,416.27 L429.7,395.27 L458.73,385.52 L488.05,373.15 L505.5,306.4" fill="none" stroke="#7b7cf0" stroke-width="1" stroke-linejoin="round" stroke-linecap="round"/>
<path d="M400.8,348.02 L429.7,386.65 L458.73,397.52 L488.05,411.77 L507.31,418.9" fill="none" stroke="#1fd3dd" stroke-width="1.6" stroke-linejoin="round" stroke-linecap="round"/>
<path d="M400.8,416.27 L429.7,394.9 L458.73,385.15 L488.05,372.02 L505.08,306.4" fill="none" stroke="#1fd3dd" stroke-width="1.6" stroke-linejoin="round" stroke-linecap="round"/>
<rect x="400.8" y="306.4" width="139.6" height="112.5" fill="none" stroke="#3c3c3c" stroke-width="1.1"/>
<line x1="501.6" y1="357.4" x2="516.7" y2="357.4" stroke="#bcbcbc" stroke-width="1.2"/>
<line x1="501.6" y1="365.5" x2="516.7" y2="365.5" stroke="#f7c69c" stroke-width="1.2"/>
<line x1="501.6" y1="373.4" x2="516.7" y2="373.4" stroke="#a7baee" stroke-width="1.2"/>
<line x1="501.6" y1="381.2" x2="516.7" y2="381.2" stroke="#f58ac8" stroke-width="1.2"/>
<line x1="501.6" y1="389.3" x2="516.7" y2="389.3" stroke="#7b7cf0" stroke-width="1.2"/>
<line x1="501.6" y1="397.1" x2="516.7" y2="397.1" stroke="#1fd3dd" stroke-width="1.9"/>
</g>
<g filter="url(#soft2)">
<text x="5.9" y="13.36" font-size="13" text-anchor="start" fill="#141414" stroke="#1e1e1e" stroke-width="0.25">(a)</text>
<text x="34.3" y="11.63" font-size="6.5" text-anchor="end" fill="#141414" class="tk">0.4</text>
<text x="34.3" y="27.91" font-size="6.5" text-anchor="end" fill="#141414" class="tk">0.0</text>
<text x="34.3" y="44.19" font-size="6.5" text-anchor="end" fill="#141414" class="tk">-0.4</text>
<text x="34.3" y="60.47" font-size="6.5" text-anchor="end" fill="#141414" class="tk">-0.8</text>
<text x="34.3" y="72.39" font-size="6.5" text-anchor="end" fill="#141414" class="tk">0.4</text>
<text x="34.3" y="88.95" font-size="6.5" text-anchor="end" fill="#141414" class="tk">0.0</text>
<text x="34.3" y="105.51" font-size="6.5" text-anchor="end" fill="#141414" class="tk">-0.4</text>
<text x="34.3" y="122.07" font-size="6.5" text-anchor="end" fill="#141414" class="tk">-0.8</text>
<text x="47.4" y="136.6" font-size="6.5" text-anchor="middle" fill="#141414" class="tk">0.0</text>
<text x="65.89" y="136.6" font-size="6.5" text-anchor="middle" fill="#141414" class="tk">0.5</text>
<text x="84.39" y="136.6" font-size="6.5" text-anchor="middle" fill="#141414" class="tk">1.0</text>
<text x="102.88" y="136.6" font-size="6.5" text-anchor="middle" fill="#141414" class="tk">1.5</text>
<text x="121.38" y="136.6" font-size="6.5" text-anchor="middle" fill="#141414" class="tk">2.0</text>
<text x="139.88" y="136.6" font-size="6.5" text-anchor="middle" fill="#141414" class="tk">2.5</text>
<text x="158.37" y="136.6" font-size="6.5" text-anchor="middle" fill="#141414" class="tk">3.0</text>
<text x="103.8" y="147.7" font-size="8.3" text-anchor="middle" fill="#141414" textLength="79" lengthAdjust="spacingAndGlyphs">Potential (V vs Na/Na<tspan font-size="4.98" dy="-3.32">+</tspan><tspan dy="3.32">)</tspan></text>
<text x="0" y="0" font-size="8.3" text-anchor="middle" fill="#141414" transform="translate(21.8 68.1) rotate(-90)" textLength="45.2" lengthAdjust="spacingAndGlyphs">Current (mA)</text>
<text x="40.8" y="14.6" font-size="7.2" text-anchor="start" fill="#141414" textLength="25.5" lengthAdjust="spacingAndGlyphs">EC/DEC</text>
<text x="42.2" y="76.2" font-size="7.2" text-anchor="start" fill="#141414">THF</text>
<text x="154.6" y="49.78" font-size="5.9" text-anchor="start" fill="#141414">1 st</text>
<text x="154.6" y="57.28" font-size="5.9" text-anchor="start" fill="#141414">2 nd</text>
<text x="154.6" y="64.88" font-size="5.9" text-anchor="start" fill="#141414">3 th</text>
<text x="153.4" y="110.18" font-size="5.9" text-anchor="start" fill="#141414">1 st</text>
<text x="153.4" y="117.78" font-size="5.9" text-anchor="start" fill="#141414">2 nd</text>
<text x="153.4" y="125.38" font-size="5.9" text-anchor="start" fill="#141414">3 th</text>
<text x="173.7" y="13.36" font-size="13" text-anchor="start" fill="#141414" stroke="#1e1e1e" stroke-width="0.25">(b)</text>
<text x="204.5" y="128.54" font-size="6.4" text-anchor="end" fill="#141414" class="tk">0.0</text>
<text x="204.5" y="108.89" font-size="6.4" text-anchor="end" fill="#141414" class="tk">0.5</text>
<text x="204.5" y="89.24" font-size="6.4" text-anchor="end" fill="#141414" class="tk">1.0</text>
<text x="204.5" y="69.59" font-size="6.4" text-anchor="end" fill="#141414" class="tk">1.5</text>
<text x="204.5" y="49.94" font-size="6.4" text-anchor="end" fill="#141414" class="tk">2.0</text>
<text x="204.5" y="30.29" font-size="6.4" text-anchor="end" fill="#141414" class="tk">2.5</text>
<text x="204.5" y="10.64" font-size="6.4" text-anchor="end" fill="#141414" class="tk">3.0</text>
<text x="213.5" y="135.6" font-size="6.4" text-anchor="middle" fill="#141414" class="tk">0</text>
<text x="235.22" y="135.6" font-size="6.4" text-anchor="middle" fill="#141414" class="tk">100</text>
<text x="256.94" y="135.6" font-size="6.4" text-anchor="middle" fill="#141414" class="tk">200</text>
<text x="278.66" y="135.6" font-size="6.4" text-anchor="middle" fill="#141414" class="tk">300</text>
<text x="300.38" y="135.6" font-size="6.4" text-anchor="middle" fill="#141414" class="tk">400</text>
<text x="322.1" y="135.6" font-size="6.4" text-anchor="middle" fill="#141414" class="tk">500</text>
<text x="343.82" y="135.6" font-size="6.4" text-anchor="middle" fill="#141414" class="tk">600</text>
<text x="282" y="146.4" font-size="8.5" text-anchor="middle" fill="#141414" textLength="68" lengthAdjust="spacingAndGlyphs">Capacity ( mAh g<tspan font-size="5.1" dy="-3.83">-1</tspan><tspan dy="3.83">)</tspan></text>
<text x="0" y="0" font-size="8.3" text-anchor="middle" fill="#141414" transform="translate(191.8 63.05) rotate(-90)" textLength="75.6" lengthAdjust="spacingAndGlyphs">Voltage (V vs Na/Na<tspan font-size="4.98" dy="-3.32">+</tspan><tspan dy="3.32">)</tspan></text>
<text x="264.4" y="90.9" font-size="7" text-anchor="start" fill="#141414" textLength="34.2" lengthAdjust="spacingAndGlyphs">ICE=64.5%</text>
<text x="302.3" y="100.4" font-size="7" text-anchor="start" fill="#141414" textLength="32.8" lengthAdjust="spacingAndGlyphs">ICE=40.1%</text>
<text x="276.9" y="58.2" font-size="7" text-anchor="start" fill="#141414" textLength="29.9" lengthAdjust="spacingAndGlyphs">50 mA g<tspan font-size="4.2" dy="-3.36">-1</tspan></text>
<text x="326.7" y="17.8" font-size="7" text-anchor="start" fill="#141414" textLength="25.2" lengthAdjust="spacingAndGlyphs">EC/DEC</text>
<text x="326.7" y="26.5" font-size="7" text-anchor="start" fill="#141414">THF</text>
<text x="362.5" y="13.36" font-size="13" text-anchor="start" fill="#141414" stroke="#1e1e1e" stroke-width="0.25">(c)</text>
<text x="390.7" y="129.68" font-size="6.8" text-anchor="end" fill="#141414" class="tk">0</text>
<text x="390.7" y="108.68" font-size="6.8" text-anchor="end" fill="#141414" class="tk">100</text>
<text x="390.7" y="87.68" font-size="6.8" text-anchor="end" fill="#141414" class="tk">200</text>
<text x="390.7" y="66.68" font-size="6.8" text-anchor="end" fill="#141414" class="tk">300</text>
<text x="390.7" y="45.68" font-size="6.8" text-anchor="end" fill="#141414" class="tk">400</text>
<text x="390.7" y="32.78" font-size="6.8" text-anchor="end" fill="#141414" class="tk">600</text>
<text x="390.7" y="11.78" font-size="6.8" text-anchor="end" fill="#141414" class="tk">700</text>
<text x="394.4" y="136.1" font-size="6.8" text-anchor="middle" fill="#141414" class="tk">0</text>
<text x="412.6" y="136.1" font-size="6.8" text-anchor="middle" fill="#141414" class="tk">5</text>
<text x="430.8" y="136.1" font-size="6.8" text-anchor="middle" fill="#141414" class="tk">10</text>
<text x="449" y="136.1" font-size="6.8" text-anchor="middle" fill="#141414" class="tk">15</text>
<text x="467.2" y="136.1" font-size="6.8" text-anchor="middle" fill="#141414" class="tk">20</text>
<text x="485.4" y="136.1" font-size="6.8" text-anchor="middle" fill="#141414" class="tk">25</text>
<text x="503.6" y="136.1" font-size="6.8" text-anchor="middle" fill="#141414" class="tk">30</text>
<text x="521.8" y="136.1" font-size="6.8" text-anchor="middle" fill="#141414" class="tk">35</text>
<text x="540" y="136.1" font-size="6.8" text-anchor="middle" fill="#141414" class="tk">40</text>
<text x="470.1" y="147.4" font-size="8.5" text-anchor="middle" fill="#141414" textLength="22.8" lengthAdjust="spacingAndGlyphs">Cycles</text>
<text x="0" y="0" font-size="8.5" text-anchor="middle" fill="#141414" transform="translate(375.5 69) rotate(-90)" textLength="66" lengthAdjust="spacingAndGlyphs">Capacity (mAh g<tspan font-size="5.1" dy="-3.83">-1</tspan><tspan dy="3.83">)</tspan></text>
<text x="398.2" y="20.7" font-size="7.3" text-anchor="start" fill="#141414" textLength="38" lengthAdjust="spacingAndGlyphs">Unit: mA g<tspan font-size="4.38" dy="-3.5">-1</tspan></text>
<text x="411.6" y="68.2" font-size="7.4" text-anchor="middle" fill="#141414" class="tk">50</text>
<text x="423.5" y="74.8" font-size="7.4" text-anchor="middle" fill="#141414" class="tk">100</text>
<text x="443.1" y="79" font-size="7.4" text-anchor="middle" fill="#141414" class="tk">200</text>
<text x="462.8" y="80.6" font-size="7.4" text-anchor="middle" fill="#141414" class="tk">500</text>
<text x="481.8" y="81.8" font-size="7.4" text-anchor="middle" fill="#141414" class="tk">1k</text>
<text x="498.6" y="85.2" font-size="7.4" text-anchor="middle" fill="#141414" class="tk">2k</text>
<text x="516.8" y="86.6" font-size="7.4" text-anchor="middle" fill="#141414" class="tk">5k</text>
<text x="533.4" y="78.5" font-size="7.4" text-anchor="middle" fill="#141414" class="tk">50</text>
<text x="514.3" y="19.6" font-size="7.2" text-anchor="start" fill="#141414" textLength="25.3" lengthAdjust="spacingAndGlyphs">EC/DEC</text>
<text x="514.3" y="28.4" font-size="7.2" text-anchor="start" fill="#141414">THF</text>
<text x="7" y="158.75" font-size="13" text-anchor="start" fill="#141414" stroke="#1e1e1e" stroke-width="0.25">(d)</text>
<text x="23.1" y="276.68" font-size="6.5" text-anchor="end" fill="#141414" class="tk">0</text>
<text x="23.1" y="243.08" font-size="6.5" text-anchor="end" fill="#141414" class="tk">1</text>
<text x="23.1" y="209.48" font-size="6.5" text-anchor="end" fill="#141414" class="tk">2</text>
<text x="23.1" y="175.88" font-size="6.5" text-anchor="end" fill="#141414" class="tk">3</text>
<text x="26.9" y="283.3" font-size="6.5" text-anchor="middle" fill="#141414" class="tk">0</text>
<text x="45.23" y="283.3" font-size="6.5" text-anchor="middle" fill="#141414" class="tk">50</text>
<text x="63.57" y="283.3" font-size="6.5" text-anchor="middle" fill="#141414" class="tk">100</text>
<text x="81.91" y="283.3" font-size="6.5" text-anchor="middle" fill="#141414" class="tk">150</text>
<text x="100.24" y="283.3" font-size="6.5" text-anchor="middle" fill="#141414" class="tk">200</text>
<text x="118.58" y="283.3" font-size="6.5" text-anchor="middle" fill="#141414" class="tk">250</text>
<text x="136.91" y="283.3" font-size="6.5" text-anchor="middle" fill="#141414" class="tk">300</text>
<text x="155.25" y="283.3" font-size="6.5" text-anchor="middle" fill="#141414" class="tk">350</text>
<text x="173.58" y="283.3" font-size="6.5" text-anchor="middle" fill="#141414" class="tk">400</text>
<text x="104.2" y="294.9" font-size="8.4" text-anchor="middle" fill="#141414" textLength="68.6" lengthAdjust="spacingAndGlyphs">Capacity ( mAh g<tspan font-size="5.04" dy="-3.78">-1</tspan><tspan dy="3.78">)</tspan></text>
<text x="0" y="0" font-size="8.2" text-anchor="middle" fill="#141414" transform="translate(15.4 213) rotate(-90)" textLength="39.3" lengthAdjust="spacingAndGlyphs">Voltage (V)</text>
<text x="30.4" y="165" font-size="7.2" text-anchor="start" fill="#141414" textLength="25.6" lengthAdjust="spacingAndGlyphs">EC/DEC</text>
<text x="133.8" y="165.6" font-size="7.3" text-anchor="start" fill="#141414" textLength="38" lengthAdjust="spacingAndGlyphs">Unit: mA g<tspan font-size="4.38" dy="-3.5">-1</tspan></text>
<text x="162" y="215.94" font-size="6.7" text-anchor="start" fill="#141414">50</text>
<text x="162" y="224.34" font-size="6.7" text-anchor="start" fill="#141414">100</text>
<text x="162" y="232.44" font-size="6.7" text-anchor="start" fill="#141414">200</text>
<text x="162" y="240.94" font-size="6.7" text-anchor="start" fill="#141414">500</text>
<text x="162" y="249.24" font-size="6.7" text-anchor="start" fill="#141414">1k</text>
<text x="162" y="257.64" font-size="6.7" text-anchor="start" fill="#141414">2k</text>
<text x="162" y="265.64" font-size="6.7" text-anchor="start" fill="#141414">5k</text>
<text x="181.7" y="158.85" font-size="13" text-anchor="start" fill="#141414" stroke="#1e1e1e" stroke-width="0.25">(e)</text>
<text x="202.9" y="276.98" font-size="6.5" text-anchor="end" fill="#141414" class="tk">0</text>
<text x="202.9" y="243.18" font-size="6.5" text-anchor="end" fill="#141414" class="tk">1</text>
<text x="202.9" y="209.38" font-size="6.5" text-anchor="end" fill="#141414" class="tk">2</text>
<text x="202.9" y="175.58" font-size="6.5" text-anchor="end" fill="#141414" class="tk">3</text>
<text x="206.8" y="283.3" font-size="6.5" text-anchor="middle" fill="#141414" class="tk">0</text>
<text x="227.63" y="283.3" font-size="6.5" text-anchor="middle" fill="#141414" class="tk">50</text>
<text x="248.46" y="283.3" font-size="6.5" text-anchor="middle" fill="#141414" class="tk">100</text>
<text x="269.29" y="283.3" font-size="6.5" text-anchor="middle" fill="#141414" class="tk">150</text>
<text x="290.12" y="283.3" font-size="6.5" text-anchor="middle" fill="#141414" class="tk">200</text>
<text x="310.95" y="283.3" font-size="6.5" text-anchor="middle" fill="#141414" class="tk">250</text>
<text x="331.78" y="283.3" font-size="6.5" text-anchor="middle" fill="#141414" class="tk">300</text>
<text x="352.61" y="283.3" font-size="6.5" text-anchor="middle" fill="#141414" class="tk">350</text>
<text x="283" y="294.9" font-size="8.4" text-anchor="middle" fill="#141414" textLength="68.1" lengthAdjust="spacingAndGlyphs">Capacity ( mAh g<tspan font-size="5.04" dy="-3.78">-1</tspan><tspan dy="3.78">)</tspan></text>
<text x="0" y="0" font-size="8.2" text-anchor="middle" fill="#141414" transform="translate(195.4 213.2) rotate(-90)" textLength="38.9" lengthAdjust="spacingAndGlyphs">Voltage (V)</text>
<text x="211.5" y="164.7" font-size="7.2" text-anchor="start" fill="#141414">THF</text>
<text x="313.9" y="165.6" font-size="7.3" text-anchor="start" fill="#141414" textLength="37" lengthAdjust="spacingAndGlyphs">Unit: mA g<tspan font-size="4.38" dy="-3.5">-1</tspan></text>
<text x="339.6" y="217.94" font-size="6.7" text-anchor="start" fill="#141414">50</text>
<text x="339.6" y="226.14" font-size="6.7" text-anchor="start" fill="#141414">100</text>
<text x="339.6" y="234.44" font-size="6.7" text-anchor="start" fill="#141414">200</text>
<text x="339.6" y="242.84" font-size="6.7" text-anchor="start" fill="#141414">500</text>
<text x="339.6" y="251.34" font-size="6.7" text-anchor="start" fill="#141414">1k</text>
<text x="339.6" y="259.44" font-size="6.7" text-anchor="start" fill="#141414">2k</text>
<text x="339.6" y="267.54" font-size="6.7" text-anchor="start" fill="#141414">5k</text>
<text x="358.1" y="158.35" font-size="13" text-anchor="start" fill="#141414" stroke="#1e1e1e" stroke-width="0.25">(f)</text>
<text x="388.7" y="279.58" font-size="6.8" text-anchor="end" fill="#141414" class="tk">0</text>
<text x="388.7" y="250.18" font-size="6.8" text-anchor="end" fill="#141414" class="tk">100</text>
<text x="388.7" y="220.78" font-size="6.8" text-anchor="end" fill="#141414" class="tk">200</text>
<text x="388.7" y="189.08" font-size="6.8" text-anchor="end" fill="#141414" class="tk">700</text>
<text x="388.7" y="159.78" font-size="6.8" text-anchor="end" fill="#141414" class="tk">800</text>
<text x="392.4" y="286.7" font-size="6.8" text-anchor="middle" fill="#141414" class="tk">0</text>
<text x="422.14" y="286.7" font-size="6.8" text-anchor="middle" fill="#141414" class="tk">200</text>
<text x="451.88" y="286.7" font-size="6.8" text-anchor="middle" fill="#141414" class="tk">400</text>
<text x="481.62" y="286.7" font-size="6.8" text-anchor="middle" fill="#141414" class="tk">600</text>
<text x="511.36" y="286.7" font-size="6.8" text-anchor="middle" fill="#141414" class="tk">800</text>
<text x="541.1" y="286.7" font-size="6.8" text-anchor="middle" fill="#141414" class="tk">1000</text>
<text x="470.8" y="295.4" font-size="8.5" text-anchor="middle" fill="#141414" textLength="22.6" lengthAdjust="spacingAndGlyphs">Cycles</text>
<text x="0" y="0" font-size="8.5" text-anchor="middle" fill="#141414" transform="translate(374.7 214.1) rotate(-90)" textLength="66.4" lengthAdjust="spacingAndGlyphs">Capacity (mAh g<tspan font-size="5.1" dy="-3.83">-1</tspan><tspan dy="3.83">)</tspan></text>
<text x="460.4" y="219.5" font-size="7.5" text-anchor="start" fill="#141414" textLength="21" lengthAdjust="spacingAndGlyphs">2 A g<tspan font-size="4.5" dy="-3.6">-1</tspan></text>
<text x="512.7" y="166.8" font-size="7.2" text-anchor="start" fill="#141414" textLength="25.1" lengthAdjust="spacingAndGlyphs">EC/DEC</text>
<text x="512.7" y="176" font-size="7.2" text-anchor="start" fill="#141414">THF</text>
<text x="5.9" y="310.16" font-size="13" text-anchor="start" fill="#141414" stroke="#1e1e1e" stroke-width="0.25">(g)</text>
<text x="50.5" y="419.61" font-size="8.4" text-anchor="end" fill="#141414" class="tk">0</text>
<text x="50.5" y="393.31" font-size="8.4" text-anchor="end" fill="#141414" class="tk">100</text>
<text x="50.5" y="366.01" font-size="8.4" text-anchor="end" fill="#141414" class="tk">300</text>
<text x="50.5" y="339.81" font-size="8.4" text-anchor="end" fill="#141414" class="tk">400</text>
<text x="50.5" y="314.01" font-size="8.4" text-anchor="end" fill="#141414" class="tk">500</text>
<text x="54.5" y="428.3" font-size="8.4" text-anchor="middle" fill="#141414" class="tk">0</text>
<text x="99.28" y="428.3" font-size="8.4" text-anchor="middle" fill="#141414" class="tk">400</text>
<text x="144.07" y="428.3" font-size="8.4" text-anchor="middle" fill="#141414" class="tk">800</text>
<text x="188.85" y="428.3" font-size="8.4" text-anchor="middle" fill="#141414" class="tk">1200</text>
<text x="233.64" y="428.3" font-size="8.4" text-anchor="middle" fill="#141414" class="tk">1600</text>
<text x="278.42" y="428.3" font-size="8.4" text-anchor="middle" fill="#141414" class="tk">2000</text>
<text x="323.2" y="428.3" font-size="8.4" text-anchor="middle" fill="#141414" class="tk">2400</text>
<text x="328.6" y="419.61" font-size="8.4" text-anchor="start" fill="#141414" class="tk">0</text>
<text x="328.6" y="402.01" font-size="8.4" text-anchor="start" fill="#141414" class="tk">20</text>
<text x="328.6" y="384.41" font-size="8.4" text-anchor="start" fill="#141414" class="tk">40</text>
<text x="328.6" y="366.81" font-size="8.4" text-anchor="start" fill="#141414" class="tk">60</text>
<text x="328.6" y="349.21" font-size="8.4" text-anchor="start" fill="#141414" class="tk">80</text>
<text x="328.6" y="331.61" font-size="8.4" text-anchor="start" fill="#141414" class="tk">100</text>
<text x="328.6" y="314.01" font-size="8.4" text-anchor="start" fill="#141414" class="tk">120</text>
<text x="194.1" y="439.2" font-size="10.5" text-anchor="middle" fill="#141414" textLength="28" lengthAdjust="spacingAndGlyphs">Cycles</text>
<text x="0" y="0" font-size="10.7" text-anchor="middle" fill="#141414" transform="translate(31.8 362.5) rotate(-90)" textLength="82.6" lengthAdjust="spacingAndGlyphs">Capacity (mAh g<tspan font-size="6.42" dy="-4.81">-1</tspan><tspan dy="4.81">)</tspan></text>
<text x="0" y="0" font-size="10.3" text-anchor="middle" fill="#141414" transform="translate(351.2 363.75) rotate(-90)" textLength="107.7" lengthAdjust="spacingAndGlyphs">Coulombic efficiency (%)</text>
<text x="188.2" y="395.1" font-size="8.8" text-anchor="start" fill="#141414" textLength="25.8" lengthAdjust="spacingAndGlyphs">5 A g<tspan font-size="5.28" dy="-4.22">-1</tspan></text>
<text x="365.6" y="309.86" font-size="13" text-anchor="start" fill="#141414" stroke="#1e1e1e" stroke-width="0.25">(h)</text>
<text x="397.3" y="421.31" font-size="7.2" text-anchor="end" fill="#141414" class="tk">0.0</text>
<text x="397.3" y="402.56" font-size="7.2" text-anchor="end" fill="#141414" class="tk">0.5</text>
<text x="397.3" y="383.81" font-size="7.2" text-anchor="end" fill="#141414" class="tk">1.0</text>
<text x="397.3" y="365.06" font-size="7.2" text-anchor="end" fill="#141414" class="tk">1.5</text>
<text x="397.3" y="346.31" font-size="7.2" text-anchor="end" fill="#141414" class="tk">2.0</text>
<text x="397.3" y="327.56" font-size="7.2" text-anchor="end" fill="#141414" class="tk">2.5</text>
<text x="397.3" y="308.81" font-size="7.2" text-anchor="end" fill="#141414" class="tk">3.0</text>
<text x="400.8" y="427.8" font-size="7.2" text-anchor="middle" fill="#141414" class="tk">0</text>
<text x="428.72" y="427.8" font-size="7.2" text-anchor="middle" fill="#141414" class="tk">40</text>
<text x="456.64" y="427.8" font-size="7.2" text-anchor="middle" fill="#141414" class="tk">80</text>
<text x="484.56" y="427.8" font-size="7.2" text-anchor="middle" fill="#141414" class="tk">120</text>
<text x="512.48" y="427.8" font-size="7.2" text-anchor="middle" fill="#141414" class="tk">160</text>
<text x="540.4" y="427.8" font-size="7.2" text-anchor="middle" fill="#141414" class="tk">200</text>
<text x="471" y="438.4" font-size="8.2" text-anchor="middle" fill="#141414" textLength="70" lengthAdjust="spacingAndGlyphs">Capacities ( mAh g<tspan font-size="4.92" dy="-3.69">-1</tspan><tspan dy="3.69">)</tspan></text>
<text x="0" y="0" font-size="7.7" text-anchor="middle" fill="#141414" transform="translate(382.9 360.2) rotate(-90)" textLength="37.2" lengthAdjust="spacingAndGlyphs">Voltage (V)</text>
<text x="406.8" y="315.5" font-size="7.2" text-anchor="start" fill="#141414">THF</text>
<text x="517.8" y="359.61" font-size="6.6" text-anchor="start" fill="#141414">100 th</text>
<text x="517.8" y="367.71" font-size="6.6" text-anchor="start" fill="#141414">200 th</text>
<text x="517.8" y="375.61" font-size="6.6" text-anchor="start" fill="#141414">500 th</text>
<text x="517.8" y="383.41" font-size="6.6" text-anchor="start" fill="#141414">1000 th</text>
<text x="517.8" y="391.51" font-size="6.6" text-anchor="start" fill="#141414">1500 th</text>
<text x="517.8" y="399.31" font-size="6.6" text-anchor="start" fill="#141414">2000 th</text>
</g>
</svg></div></body></html>
